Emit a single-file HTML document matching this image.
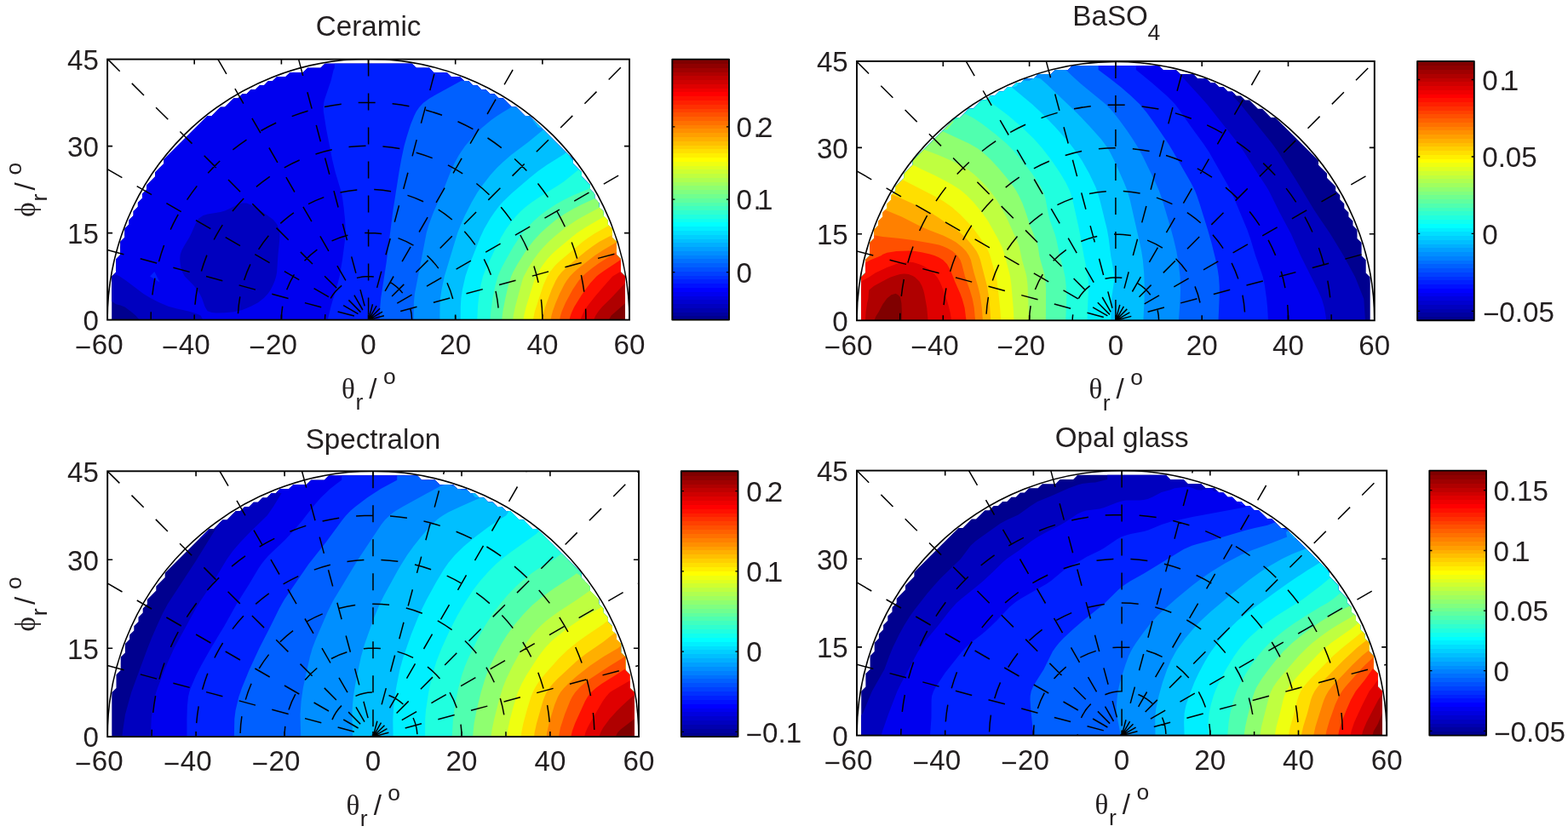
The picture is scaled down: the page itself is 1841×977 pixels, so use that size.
<!DOCTYPE html>
<html lang="en"><head><meta charset="utf-8"><title>Polar contour plots</title>
<style>
html,body{margin:0;padding:0;background:#fff}
body{width:1841px;height:977px;overflow:hidden}
svg{display:block}
text{font-family:"Liberation Sans",Arial,Helvetica,sans-serif;font-size:33.2px;fill:#231f20}
.ss{font-size:26.5px}
.sy{font-family:"Liberation Serif","DejaVu Serif",serif;font-size:33px}
</style></head>
<body>

<svg width="1841" height="977" viewBox="0 0 1841 977" role="img" aria-label="Polar contour plots for Ceramic, BaSO4, Spectralon and Opal glass">
<rect width="1841" height="977" fill="#fff"/>
<g id="panel1">
<clipPath id="clip0"><rect x="126.1" y="69.6" width="612.9" height="306"/></clipPath>
<g clip-path="url(#clip0)">
<path fill="#00008f" d="M131.2,375.6L733.9,375.6L733.9,324.6L728.8,319.5L728.8,304.2L723.7,299.1L723.7,283.8L718.6,278.7L718.6,268.5L713.5,263.4L713.5,258.3L708.4,253.2L708.4,248.1L703.2,243L703.2,237.9L698.1,232.8L698.1,227.7L693,222.6L693,217.5L682.8,207.3L682.8,202.2L672.6,192L672.6,186.9L621.5,135.9L616.4,135.9L606.2,125.7L601.1,125.7L590.9,115.5L585.8,115.5L580.7,110.4L575.6,110.4L570.5,105.3L565.3,105.3L560.2,100.2L555.1,100.2L550,95.1L544.9,95.1L539.8,90L529.6,90L524.5,84.9L509.2,84.9L504.1,79.8L488.7,79.8L483.6,74.7L381.5,74.7L376.4,79.8L361,79.8L355.9,84.9L340.6,84.9L335.5,90L325.3,90L320.2,95.1L315.1,95.1L310,100.2L304.9,100.2L299.8,105.3L294.6,105.3L289.5,110.4L284.4,110.4L279.3,115.5L274.2,115.5L264,125.7L258.9,125.7L248.7,135.9L243.6,135.9L192.5,186.9L192.5,192L182.3,202.2L182.3,207.3L172.1,217.5L172.1,222.6L167,227.7L167,232.8L161.9,237.9L161.9,243L156.7,248.1L156.7,253.2L151.6,258.3L151.6,263.4L146.5,268.5L146.5,278.7L141.4,283.8L141.4,299.1L136.3,304.2L136.3,319.5L131.2,324.6Z"/>
<path fill="#0000bf" d="M159.3,370.5L161.9,373.6L164.1,375.6L733.9,375.6L733.9,324.6L728.8,319.5L728.8,304.2L723.7,299.1L723.7,283.8L718.6,278.7L718.6,268.5L713.5,263.4L713.5,258.3L708.4,253.2L708.4,248.1L703.2,243L703.2,237.9L698.1,232.8L698.1,227.7L693,222.6L693,217.5L682.8,207.3L682.8,202.2L672.6,192L672.6,186.9L621.5,135.9L616.4,135.9L606.2,125.7L601.1,125.7L590.9,115.5L585.8,115.5L580.7,110.4L575.6,110.4L570.5,105.3L565.3,105.3L560.2,100.2L555.1,100.2L550,95.1L544.9,95.1L539.8,90L529.6,90L524.5,84.9L509.2,84.9L504.1,79.8L488.7,79.8L483.6,74.7L381.5,74.7L376.4,79.8L361,79.8L355.9,84.9L340.6,84.9L335.5,90L325.3,90L320.2,95.1L315.1,95.1L310,100.2L304.9,100.2L299.8,105.3L294.6,105.3L289.5,110.4L284.4,110.4L279.3,115.5L274.2,115.5L264,125.7L258.9,125.7L248.7,135.9L243.6,135.9L192.5,186.9L192.5,192L182.3,202.2L182.3,207.3L172.1,217.5L172.1,222.6L167,227.7L167,232.8L161.9,237.9L161.9,243L156.7,248.1L156.7,253.2L151.6,258.3L151.6,263.4L146.5,268.5L146.5,278.7L141.4,283.8L141.4,299.1L136.3,304.2L136.3,319.5L131.2,324.6L131.2,353.8L136.3,357.2L141.4,358.6L146.5,360.6L153.3,365.4Z"/>
<path fill="#0000ef" d="M238.2,375.6L733.9,375.6L733.9,324.6L728.8,319.5L728.8,304.2L723.7,299.1L723.7,283.8L718.6,278.7L718.6,268.5L713.5,263.4L713.5,258.3L708.4,253.2L708.4,248.1L703.2,243L703.2,237.9L698.1,232.8L698.1,227.7L693,222.6L693,217.5L682.8,207.3L682.8,202.2L672.6,192L672.6,186.9L621.5,135.9L616.4,135.9L606.2,125.7L601.1,125.7L590.9,115.5L585.8,115.5L580.7,110.4L575.6,110.4L570.5,105.3L565.3,105.3L560.2,100.2L555.1,100.2L550,95.1L544.9,95.1L539.8,90L529.6,90L524.5,84.9L509.2,84.9L504.1,79.8L488.7,79.8L483.6,74.7L381.5,74.7L376.4,79.8L361,79.8L355.9,84.9L340.6,84.9L335.5,90L325.3,90L320.2,95.1L315.1,95.1L310,100.2L304.9,100.2L299.8,105.3L294.6,105.3L289.5,110.4L284.4,110.4L279.3,115.5L274.2,115.5L264,125.7L258.9,125.7L248.7,135.9L243.6,135.9L192.5,186.9L192.5,192L182.3,202.2L182.3,207.3L172.1,217.5L172.1,222.6L167,227.7L167,232.8L161.9,237.9L161.9,243L156.7,248.1L156.7,253.2L151.6,258.3L151.6,263.4L146.5,268.5L146.5,278.7L141.4,283.8L141.4,299.1L136.3,304.2L136.3,319.5L134.4,321.4L140.5,324.6L148.3,329.7L168.4,345L176.7,350.1L187,355.2L197.6,359.7L207.8,362.6L221.5,365.4L228.2,367.4L233.4,369.4L235.6,370.5ZM248.7,367.1L243.6,365.2L240.6,360.3L237,350.1L234.5,345L231.3,339.9L227,334.8L216.9,324.6L214.1,319.5L212.5,314.4L211.6,309.3L211.2,304.2L211.7,299.1L213.4,294L216.1,288.9L222.3,278.7L224.9,273.6L229.2,263.4L232,258.3L233.4,256.6L238.5,253L243.6,251.6L258.9,248.9L264,247.4L269.1,245.2L279.3,239.9L284.4,238.4L289.5,238.6L294.6,240.4L299.4,243L314.5,253.2L320.2,257.6L321.1,258.3L325.3,263.4L327.3,268.5L328.2,273.6L328.3,278.7L328,283.8L326.5,299.1L325.1,319.5L324.2,324.6L322.6,329.7L320.5,334.8L317.9,339.9L314.5,345L309.8,350.1L303.1,355.2L294.6,359.7L284.4,363.9L274.2,366.3L264,367.3L253.8,367.4Z"/>
<path fill="#0020ff" d="M384.8,375.6L733.9,375.6L733.9,324.6L728.8,319.5L728.8,304.2L723.7,299.1L723.7,283.8L718.6,278.7L718.6,268.5L713.5,263.4L713.5,258.3L708.4,253.2L708.4,248.1L703.2,243L703.2,237.9L698.1,232.8L698.1,227.7L693,222.6L693,217.5L682.8,207.3L682.8,202.2L672.6,192L672.6,186.9L621.5,135.9L616.4,135.9L606.2,125.7L601.1,125.7L590.9,115.5L585.8,115.5L580.7,110.4L575.6,110.4L570.5,105.3L565.3,105.3L560.2,100.2L555.1,100.2L550,95.1L544.9,95.1L539.8,90L529.6,90L524.5,84.9L509.2,84.9L504.1,79.8L488.7,79.8L483.6,74.7L392.8,74.7L392.8,79.8L391.7,81.7L388.5,95.1L381.5,115.5L380.2,120.6L379.7,125.7L379.8,130.8L383,151.2L390,186.9L393.7,202.2L399.8,222.6L401.9,231.3L403.5,243L405.1,258.3L405.7,268.5L405.7,273.6L404.8,283.8L401.9,305.6L398.7,324.6L396.8,332L388.4,360.3Z"/>
<path fill="#0060ff" d="M445.8,375.6L733.9,375.6L733.9,324.6L728.8,319.5L728.8,304.2L723.7,299.1L723.7,283.8L718.6,278.7L718.6,268.5L713.5,263.4L713.5,258.3L708.4,253.2L708.4,248.1L703.2,243L703.2,237.9L698.1,232.8L698.1,227.7L693,222.6L693,217.5L682.8,207.3L682.8,202.2L672.6,192L672.6,186.9L621.5,135.9L616.4,135.9L606.2,125.7L601.1,125.7L590.9,115.5L585.8,115.5L580.7,110.4L575.6,110.4L570.5,105.3L565.3,105.3L560.2,100.2L555.1,100.2L550,95.1L544.9,95.1L544.6,94.8L541.3,95.1L513,110.4L504.3,115.5L498.9,119.4L497.3,120.6L492.4,125.7L488.9,130.8L486.3,135.9L482.2,146.1L477.3,161.4L474.5,171.6L471.2,186.9L468.5,202.2L461.3,248.1L453.5,309.3L447.2,350.1L446.3,360.3Z"/>
<path fill="#008fff" d="M485.6,375.6L733.9,375.6L733.9,324.6L728.8,319.5L728.8,304.2L723.7,299.1L723.7,283.8L718.6,278.7L718.6,268.5L713.5,263.4L713.5,258.3L708.4,253.2L708.4,248.1L703.2,243L703.2,237.9L698.1,232.8L698.1,227.7L693,222.6L693,217.5L682.8,207.3L682.8,202.2L672.6,192L672.6,186.9L621.9,136.2L621.5,136.5L620.7,135.9L616.4,135.9L606.2,125.7L601,125.6L590.9,131.4L583.8,135.9L576.7,141L565.3,150.4L555.1,160.7L546,171.6L539,181.8L533.4,192L528.8,202.2L520.8,222.6L509.2,248.4L503.6,263.4L500.7,273.6L486.9,345L485.9,355.2Z"/>
<path fill="#00bfff" d="M516.4,375.6L733.9,375.6L733.9,324.6L728.8,319.5L728.8,304.2L723.7,299.1L723.7,283.8L718.6,278.7L718.6,268.5L713.5,263.4L713.5,258.3L708.4,253.2L708.4,248.1L703.2,243L703.2,237.9L698.1,232.8L698.1,227.7L693,222.6L693,217.5L682.8,207.3L682.8,202.2L672.6,192L672.6,186.9L638,152.3L620.7,166.5L600.4,181.8L590.9,189.9L583.5,197.1L575.6,205.8L566.5,217.5L560.2,226.6L553.5,237.9L545.7,253.2L541.2,263.4L537.2,273.6L521.8,324.6L518.5,339.9L517,350.1L516.5,360.3ZM629.3,146.1L631.7,149.6L636.2,150.5L625.9,140.3L625.2,141Z"/>
<path fill="#00efff" d="M540.7,375.6L733.9,375.6L733.9,324.6L728.8,319.5L728.8,304.2L723.7,299.1L723.7,283.8L718.6,278.7L718.6,268.5L713.5,263.4L713.5,258.3L708.4,253.2L708.4,248.1L703.2,243L703.2,237.9L698.1,232.8L698.1,227.7L693,222.6L693,217.5L682.8,207.3L682.8,202.2L672.6,192L672.6,188.7L670,186.9L669.1,183.4L664.7,179L662.4,181L642,193.7L631.7,201L621.5,209.2L601.1,226.8L590.9,236.6L585.8,242.3L580.7,248.9L575.6,256.4L568.6,268.5L563.8,278.7L549.8,314.4L546.4,324.6L542.9,339.9L541.4,350.1L540.8,360.3Z"/>
<path fill="#20ffdf" d="M560.3,375.6L733.9,375.6L733.9,324.6L728.8,319.5L728.8,304.2L723.7,299.1L723.7,283.8L718.6,278.7L718.6,268.5L713.5,263.4L713.5,258.3L708.4,253.2L708.4,248.1L703.2,243L703.2,237.9L698.1,232.8L698.1,227.7L693,222.6L693,217.5L682.8,207.3L682.8,202.2L679.6,199L662.4,212.9L655.7,217.5L631.7,232.4L623.7,237.9L617.2,243L611.5,248.1L606.2,253.6L601.1,259.6L594.5,268.5L588.3,278.7L583,288.9L570.9,314.4L567,324.6L564.5,334.8L562,350.1L561,360.3Z"/>
<path fill="#50ffaf" d="M575.4,375.6L733.9,375.6L733.9,324.6L728.8,319.5L728.8,304.2L723.7,299.1L723.7,283.8L718.6,278.7L718.6,268.5L713.5,263.4L713.5,258.3L708.4,253.2L708.4,248.1L703.2,243L703.2,237.9L698.1,232.8L698.1,227.7L693,222.6L693,220L689.9,222.6L672.6,229.4L662.4,234.4L652.2,240.2L642,246.9L633.7,253.2L626.6,259.4L617.8,268.5L611.3,276.5L603.1,288.9L594.4,304.2L588.9,314.4L584.5,324.6L581.6,334.8L578.5,350.1L576.3,365.4Z"/>
<path fill="#8fff70" d="M589.2,375.6L733.9,375.6L733.9,324.6L728.8,319.5L728.8,304.2L723.7,299.1L723.7,283.8L718.6,278.7L718.6,268.5L713.5,263.4L713.5,258.3L708.4,253.2L708.4,248.1L703.2,243L703.2,237.9L698.5,233.1L682.8,240.2L672.6,245.5L662.4,251.5L652.5,258.3L642,266.9L634.9,273.6L626.6,282.4L621.5,288.9L616.4,296.2L608.1,309.3L602.4,319.5L600.2,324.6L596.9,334.8L593.4,350.1L590.4,365.4Z"/>
<path fill="#bfff40" d="M602.2,375.6L733.9,375.6L733.9,324.6L728.8,319.5L728.8,304.2L723.7,299.1L723.7,283.8L718.6,278.7L718.6,268.5L713.5,263.4L713.5,258.3L708.4,253.2L708.4,248.1L703.9,243.7L686.2,253.2L677.7,258.1L669.5,263.4L662.4,268.5L652.2,276.7L644.3,283.8L636.9,291.5L631.7,297.7L626.6,304.8L620.4,314.4L615,324.6L613.1,329.7L604.9,360.3L602.8,370.5Z"/>
<path fill="#efff10" d="M614.4,375.6L733.9,375.6L733.9,324.6L728.8,319.5L728.8,304.2L723.7,299.1L723.7,283.8L718.6,278.7L718.6,268.5L713.5,263.4L713.5,258.3L709.4,254.2L687.9,266.7L677.6,273.6L671,278.7L652.2,294.5L647.1,299.3L642,305L636.9,311.8L631.9,319.5L629.2,324.6L627.1,329.7L617.7,360.3L615.2,370.5Z"/>
<path fill="#ffdf00" d="M625.8,375.6L733.9,375.6L733.9,324.6L728.8,319.5L728.8,304.2L723.7,299.1L723.7,283.8L718.6,278.7L718.6,268.5L714.9,264.8L698.1,274.3L691.3,278.7L684.3,283.8L657.3,306.4L652.2,311.3L649.5,314.4L645.7,319.5L642.6,324.6L638,334.8L627.9,365.4Z"/>
<path fill="#ffaf00" d="M636.4,375.6L733.9,375.6L733.9,324.6L728.8,319.5L728.8,304.2L723.7,299.1L723.7,283.8L718.6,278.7L718.6,275.9L703.8,283.8L696,288.9L687.9,295L667.5,311.8L659.5,319.5L655.5,324.6L652.4,329.7L647.7,339.9L640.2,360.3L637.3,370.5Z"/>
<path fill="#ff8000" d="M646.6,375.6L733.9,375.6L733.9,324.6L728.8,319.5L728.8,304.2L723.7,299.1L723.7,284.5L708.4,293.4L698.1,300.2L679.8,314.4L674,319.5L669.1,324.6L665.2,329.7L662.4,334.2L657,345L652.2,356.3L648.9,365.4L647.5,370.5Z"/>
<path fill="#ff5000" d="M657,375.6L733.9,375.6L733.9,324.6L728.8,319.5L728.8,304.2L723.7,299.1L723.7,295.9L703.2,309L695.7,314.4L687.9,320.7L683.8,324.6L679.3,329.7L672.4,339.9L664.1,355.2L659.7,365.4L658.1,370.5Z"/>
<path fill="#ff1000" d="M668.5,375.6L733.9,375.6L733.9,324.6L728.8,319.5L728.8,305.1L708.4,318.5L703.2,322.2L700.4,324.6L693,332.5L687.9,339.2L682.8,346.6L674.3,360.3L671.8,365.4L669.8,370.5Z"/>
<path fill="#df0000" d="M681.6,375.6L733.9,375.6L733.9,324.6L728.8,319.5L728.8,318.7L719.2,324.6L708.4,336.7L698.1,348.7L689.1,360.3L685.8,365.4L683.3,370.5Z"/>
<path fill="#af0000" d="M697.1,375.6L733.9,375.6L733.9,332.6L717.5,350.1L707,360.3L702.7,365.4L699.3,370.5Z"/>
<path fill="#800000" d="M714.8,375.6L733.9,375.6L733.9,356.2L717.7,370.5Z"/>
<path fill="#0020ff" d="M181.4,319.1L176.1,324.5L187.6,331.4Z"/>
<path d="M126.1,375.6 A306.4,306.4 0 0 1 739,375.6" fill="none" stroke="#000" stroke-width="1.6"/>
<path d="M483.6,375.6 A51.1,51.1 0 0 0 481.7,361.8M472.7,344.1 A51.1,51.1 0 0 0 457.6,331.1M438.8,324.9 A51.1,51.1 0 0 0 418.9,326.4M401.2,335.3 A51.1,51.1 0 0 0 388.2,350.3M381.9,369.2 A51.1,51.1 0 0 0 381.5,375.6M534.7,375.6 A102.2,102.2 0 0 0 534.6,370.8M531.7,351 A102.2,102.2 0 0 0 525,332.2M514.8,315.1 A102.2,102.2 0 0 0 501.5,300.2M485.5,288.2 A102.2,102.2 0 0 0 467.5,279.6M448.1,274.6 A102.2,102.2 0 0 0 428.2,273.5M408.4,276.3 A102.2,102.2 0 0 0 389.6,282.9M372.4,293.1 A102.2,102.2 0 0 0 357.5,306.3M345.4,322.3 A102.2,102.2 0 0 0 336.7,340.2M331.7,359.6 A102.2,102.2 0 0 0 330.4,375.6M585.1,361.6 A153.2,153.2 0 0 0 582,341.9M576.4,322.7 A153.2,153.2 0 0 0 568.3,304.4M557.8,287.4 A153.2,153.2 0 0 0 545.3,271.8M530.8,258 A153.2,153.2 0 0 0 514.7,246.2M497.1,236.7 A153.2,153.2 0 0 0 478.5,229.4M459.1,224.7 A153.2,153.2 0 0 0 439.2,222.5M419.3,223 A153.2,153.2 0 0 0 399.5,226M380.3,231.6 A153.2,153.2 0 0 0 362,239.6M344.9,249.9 A153.2,153.2 0 0 0 329.3,262.4M315.4,276.8 A153.2,153.2 0 0 0 303.6,292.9M293.9,310.4 A153.2,153.2 0 0 0 286.6,329M281.8,348.4 A153.2,153.2 0 0 0 279.5,368.2M636.8,371.6 A204.3,204.3 0 0 0 635.4,351.7M632.1,331.9 A204.3,204.3 0 0 0 626.9,312.6M619.8,293.9 A204.3,204.3 0 0 0 610.9,276M600.4,259.1 A204.3,204.3 0 0 0 588.2,243.2M574.5,228.7 A204.3,204.3 0 0 0 559.4,215.5M543.2,203.8 A204.3,204.3 0 0 0 525.9,193.9M507.7,185.6 A204.3,204.3 0 0 0 488.7,179.2M469.3,174.6 A204.3,204.3 0 0 0 449.4,172M429.5,171.3 A204.3,204.3 0 0 0 409.5,172.6M389.8,175.8 A204.3,204.3 0 0 0 370.5,181M351.7,188 A204.3,204.3 0 0 0 333.8,196.8M316.8,207.3 A204.3,204.3 0 0 0 300.9,219.4M286.2,233 A204.3,204.3 0 0 0 273,248M261.3,264.2 A204.3,204.3 0 0 0 251.2,281.5M242.9,299.6 A204.3,204.3 0 0 0 236.4,318.5M231.7,338 A204.3,204.3 0 0 0 229,357.8M687.9,375.6 A255.4,255.4 0 0 0 687.6,362.6M685.8,342.7 A255.4,255.4 0 0 0 682.4,323M677.6,303.6 A255.4,255.4 0 0 0 671.2,284.6M663.3,266.3 A255.4,255.4 0 0 0 654.1,248.5M643.4,231.6 A255.4,255.4 0 0 0 631.5,215.5M618.4,200.5 A255.4,255.4 0 0 0 604.1,186.5M588.8,173.6 A255.4,255.4 0 0 0 572.5,162M555.4,151.7 A255.4,255.4 0 0 0 537.5,142.8M519,135.3 A255.4,255.4 0 0 0 499.9,129.3M480.4,124.7 A255.4,255.4 0 0 0 460.6,121.8M440.7,120.4 A255.4,255.4 0 0 0 420.7,120.5M400.8,122.2 A255.4,255.4 0 0 0 381,125.5M361.6,130.3 A255.4,255.4 0 0 0 342.7,136.6M324.2,144.3 A255.4,255.4 0 0 0 306.5,153.5M289.5,164.1 A255.4,255.4 0 0 0 273.4,175.9M258.2,189 A255.4,255.4 0 0 0 244.2,203.2M231.3,218.4 A255.4,255.4 0 0 0 219.6,234.7M209.2,251.8 A255.4,255.4 0 0 0 200.2,269.6M192.6,288.1 A255.4,255.4 0 0 0 186.5,307.2M181.9,326.6 A255.4,255.4 0 0 0 178.9,346.4M177.3,366.3 A255.4,255.4 0 0 0 177.2,375.6M432.6,375.6L450.9,370.7M470.2,365.5L489.5,360.3M508.9,355.2L528.2,350M547.5,344.8L566.8,339.6M586.1,334.4L605.5,329.3M624.8,324.1L644.1,318.9M663.4,313.7L682.7,308.6M702,303.4L721.4,298.2M432.6,375.6L449,366.1M466.3,356.1L483.6,346.1M501,336.1L518.3,326.1M535.6,316.1L552.9,306.1M570.2,296.1L587.6,286.1M604.9,276.1L622.2,266.1M639.5,256.1L656.9,246.1M674.2,236.1L691.5,226.1M708.8,216.1L726.1,206.1M432.6,375.6L446,362.2M460.1,348L474.3,333.9M488.4,319.7L502.6,305.6M516.7,291.5L530.8,277.3M545,263.2L559.1,249M573.3,234.9L587.4,220.7M601.5,206.6L615.7,192.5M629.8,178.3L644,164.2M658.1,150L672.3,135.9M686.4,121.7L700.5,107.6M714.7,93.5L728.8,79.3M432.6,375.6L442.1,359.1M452.1,341.8L462.1,324.5M472.1,307.2L482.1,289.9M492.1,272.5L502.1,255.2M512.1,237.9L522.1,220.6M532.1,203.3L542.1,185.9M552.1,168.6L562.1,151.3M572.1,134L582.1,116.7M592.1,99.3L602.1,82M432.6,375.6L437.5,357.2M442.6,337.9L447.8,318.6M453,299.3L458.2,280M463.3,260.7L468.5,241.3M473.7,222L478.9,202.7M484.1,183.4L489.2,164.1M494.4,144.7L499.6,125.4M504.8,106.1L509.9,86.8M432.6,69.6L432.6,89.6M432.6,109.6L432.6,129.6M432.6,149.6L432.6,169.6M432.6,189.6L432.6,209.6M432.6,229.6L432.6,249.6M432.6,269.6L432.6,289.6M432.6,309.6L432.6,329.6M432.6,349.6L432.6,369.6M350.6,69.6L355.7,88.9M360.9,108.2L366.1,127.6M371.3,146.9L376.4,166.2M381.6,185.5L386.8,204.8M392,224.1L397.1,243.5M402.3,262.8L407.5,282.1M412.7,301.4L417.9,320.7M423,340.1L428.2,359.4M255.9,69.6L265.9,86.9M275.9,104.2L285.9,121.6M295.9,138.9L305.9,156.2M315.9,173.5L325.9,190.8M335.9,208.2L345.9,225.5M355.9,242.8L365.9,260.1M375.9,277.4L385.9,294.8M395.9,312.1L405.9,329.4M415.9,346.7L425.9,364M126.6,69.6L140.7,83.7M154.8,97.9L169,112M183.1,126.2L197.3,140.3M211.4,154.5L225.5,168.6M239.7,182.7L253.8,196.9M268,211L282.1,225.2M296.3,239.3L310.4,253.4M324.5,267.6L338.7,281.7M352.8,295.9L367,310M381.1,324.2L395.3,338.3M409.4,352.4L423.5,366.6M126.1,198.7L143.4,208.7M160.7,218.7L178.1,228.7M195.4,238.7L212.7,248.7M230,258.7L247.3,268.7M264.7,278.7L282,288.7M299.3,298.7L316.6,308.7M333.9,318.7L351.3,328.7M368.6,338.7L385.9,348.7M403.2,358.7L420.5,368.7M126.1,293.5L145.4,298.7M164.7,303.8L184.1,309M203.4,314.2L222.7,319.4M242,324.5L261.3,329.7M280.6,334.9L300,340.1M319.3,345.3L338.6,350.4M357.9,355.6L377.2,360.8M396.6,366L415.9,371.1" fill="none" stroke="#000" stroke-width="1.5"/>
</g>
<path d="M228.2,375.6v-6M228.2,69.6v6M330.4,375.6v-6M330.4,69.6v6M432.5,375.6v-6M432.5,69.6v6M534.7,375.6v-6M534.7,69.6v6M636.9,375.6v-6M636.9,69.6v6M126.1,273.6h6M739,273.6h-6M126.1,171.6h6M739,171.6h-6" fill="none" stroke="#000" stroke-width="1.6"/>
<rect x="126.1" y="69.6" width="612.9" height="306" fill="none" stroke="#000" stroke-width="1.9"/>
<text x="87.7" y="415.8"><tspan dy="2.7">−</tspan><tspan dy="-2.7" dx="0.6">60</tspan></text>
<text x="189.8" y="415.8"><tspan dy="2.7">−</tspan><tspan dy="-2.7" dx="0.6">40</tspan></text>
<text x="292" y="415.8"><tspan dy="2.7">−</tspan><tspan dy="-2.7" dx="0.6">20</tspan></text>
<text x="432.5" y="415.8" text-anchor="middle">0</text>
<text x="534.7" y="415.8" text-anchor="middle">20</text>
<text x="636.9" y="415.8" text-anchor="middle">40</text>
<text x="739" y="415.8" text-anchor="middle">60</text>
<text x="115.9" y="387.9" text-anchor="end">0</text>
<text x="115.9" y="285.9" text-anchor="end">15</text>
<text x="115.9" y="183.9" text-anchor="end">30</text>
<text x="115.9" y="81.9" text-anchor="end">45</text>
<text x="432.6" y="42.3" text-anchor="middle">Ceramic</text>
<text class="sy" x="401.1" y="467.6">θ</text><text class="ss" x="417.4" y="480.9">r</text><text x="433.2" y="467.6">/</text><text class="ss" x="449.9" y="450.8">o</text>
<g transform="translate(40.6,254.8) rotate(-90)"><text class="sy" x="0" y="0">ϕ</text><text class="ss" x="18.2" y="14.2">r</text><text x="31.3" y="0">/</text><text class="ss" x="49.3" y="-15.6">o</text></g>
<g shape-rendering="crispEdges"><rect x="789.3" y="370.82" width="66.7" height="5.38" fill="#00008f"/><rect x="789.3" y="366.04" width="66.7" height="5.38" fill="#00009f"/><rect x="789.3" y="361.26" width="66.7" height="5.38" fill="#0000af"/><rect x="789.3" y="356.48" width="66.7" height="5.38" fill="#0000bf"/><rect x="789.3" y="351.69" width="66.7" height="5.38" fill="#0000cf"/><rect x="789.3" y="346.91" width="66.7" height="5.38" fill="#0000df"/><rect x="789.3" y="342.13" width="66.7" height="5.38" fill="#0000ef"/><rect x="789.3" y="337.35" width="66.7" height="5.38" fill="#0000ff"/><rect x="789.3" y="332.57" width="66.7" height="5.38" fill="#0010ff"/><rect x="789.3" y="327.79" width="66.7" height="5.38" fill="#0020ff"/><rect x="789.3" y="323.01" width="66.7" height="5.38" fill="#0030ff"/><rect x="789.3" y="318.23" width="66.7" height="5.38" fill="#0040ff"/><rect x="789.3" y="313.44" width="66.7" height="5.38" fill="#0050ff"/><rect x="789.3" y="308.66" width="66.7" height="5.38" fill="#0060ff"/><rect x="789.3" y="303.88" width="66.7" height="5.38" fill="#0070ff"/><rect x="789.3" y="299.10" width="66.7" height="5.38" fill="#0080ff"/><rect x="789.3" y="294.32" width="66.7" height="5.38" fill="#008fff"/><rect x="789.3" y="289.54" width="66.7" height="5.38" fill="#009fff"/><rect x="789.3" y="284.76" width="66.7" height="5.38" fill="#00afff"/><rect x="789.3" y="279.98" width="66.7" height="5.38" fill="#00bfff"/><rect x="789.3" y="275.19" width="66.7" height="5.38" fill="#00cfff"/><rect x="789.3" y="270.41" width="66.7" height="5.38" fill="#00dfff"/><rect x="789.3" y="265.63" width="66.7" height="5.38" fill="#00efff"/><rect x="789.3" y="260.85" width="66.7" height="5.38" fill="#00ffff"/><rect x="789.3" y="256.07" width="66.7" height="5.38" fill="#10ffef"/><rect x="789.3" y="251.29" width="66.7" height="5.38" fill="#20ffdf"/><rect x="789.3" y="246.51" width="66.7" height="5.38" fill="#30ffcf"/><rect x="789.3" y="241.73" width="66.7" height="5.38" fill="#40ffbf"/><rect x="789.3" y="236.94" width="66.7" height="5.38" fill="#50ffaf"/><rect x="789.3" y="232.16" width="66.7" height="5.38" fill="#60ff9f"/><rect x="789.3" y="227.38" width="66.7" height="5.38" fill="#70ff8f"/><rect x="789.3" y="222.60" width="66.7" height="5.38" fill="#80ff80"/><rect x="789.3" y="217.82" width="66.7" height="5.38" fill="#8fff70"/><rect x="789.3" y="213.04" width="66.7" height="5.38" fill="#9fff60"/><rect x="789.3" y="208.26" width="66.7" height="5.38" fill="#afff50"/><rect x="789.3" y="203.48" width="66.7" height="5.38" fill="#bfff40"/><rect x="789.3" y="198.69" width="66.7" height="5.38" fill="#cfff30"/><rect x="789.3" y="193.91" width="66.7" height="5.38" fill="#dfff20"/><rect x="789.3" y="189.13" width="66.7" height="5.38" fill="#efff10"/><rect x="789.3" y="184.35" width="66.7" height="5.38" fill="#ffff00"/><rect x="789.3" y="179.57" width="66.7" height="5.38" fill="#ffef00"/><rect x="789.3" y="174.79" width="66.7" height="5.38" fill="#ffdf00"/><rect x="789.3" y="170.01" width="66.7" height="5.38" fill="#ffcf00"/><rect x="789.3" y="165.23" width="66.7" height="5.38" fill="#ffbf00"/><rect x="789.3" y="160.44" width="66.7" height="5.38" fill="#ffaf00"/><rect x="789.3" y="155.66" width="66.7" height="5.38" fill="#ff9f00"/><rect x="789.3" y="150.88" width="66.7" height="5.38" fill="#ff8f00"/><rect x="789.3" y="146.10" width="66.7" height="5.38" fill="#ff8000"/><rect x="789.3" y="141.32" width="66.7" height="5.38" fill="#ff7000"/><rect x="789.3" y="136.54" width="66.7" height="5.38" fill="#ff6000"/><rect x="789.3" y="131.76" width="66.7" height="5.38" fill="#ff5000"/><rect x="789.3" y="126.98" width="66.7" height="5.38" fill="#ff4000"/><rect x="789.3" y="122.19" width="66.7" height="5.38" fill="#ff3000"/><rect x="789.3" y="117.41" width="66.7" height="5.38" fill="#ff2000"/><rect x="789.3" y="112.63" width="66.7" height="5.38" fill="#ff1000"/><rect x="789.3" y="107.85" width="66.7" height="5.38" fill="#ff0000"/><rect x="789.3" y="103.07" width="66.7" height="5.38" fill="#ef0000"/><rect x="789.3" y="98.29" width="66.7" height="5.38" fill="#df0000"/><rect x="789.3" y="93.51" width="66.7" height="5.38" fill="#cf0000"/><rect x="789.3" y="88.73" width="66.7" height="5.38" fill="#bf0000"/><rect x="789.3" y="83.94" width="66.7" height="5.38" fill="#af0000"/><rect x="789.3" y="79.16" width="66.7" height="5.38" fill="#9f0000"/><rect x="789.3" y="74.38" width="66.7" height="5.38" fill="#8f0000"/><rect x="789.3" y="69.60" width="66.7" height="5.38" fill="#800000"/></g>
<path d="M789.3,148.8h3.1M856,148.8h-3.1M789.3,234.1h3.1M856,234.1h-3.1M789.3,319.6h3.1M856,319.6h-3.1" fill="none" stroke="#000" stroke-width="1.3"/>
<rect x="789.3" y="69.6" width="66.7" height="306" fill="none" stroke="#000" stroke-width="1.9" stroke-linejoin="round"/>
<text x="864.4" y="161">0<tspan dx="1.6">.</tspan><tspan dx="-4.8">2</tspan></text>
<text x="864.4" y="246.3">0<tspan dx="1.6">.</tspan><tspan dx="-4.8">1</tspan></text>
<text x="864.4" y="331.8">0</text>
</g>
<g id="panel2">
<clipPath id="clip1"><rect x="1006" y="71.9" width="607.8" height="304.4"/></clipPath>
<g clip-path="url(#clip1)">
<path fill="#00008f" d="M1011.1,376.3L1608.7,376.3L1608.7,325.6L1603.7,320.5L1603.7,305.3L1598.6,300.2L1598.6,285L1593.5,279.9L1593.5,269.8L1588.5,264.7L1588.5,259.6L1583.4,254.5L1583.4,249.5L1578.3,244.4L1578.3,239.3L1573.3,234.2L1573.3,229.2L1568.2,224.1L1568.2,219L1558.1,208.9L1558.1,203.8L1548,193.7L1548,188.6L1497.3,137.9L1492.2,137.9L1482.1,127.7L1477,127.7L1466.9,117.6L1461.8,117.6L1456.8,112.5L1451.7,112.5L1446.7,107.4L1441.6,107.4L1436.5,102.3L1431.5,102.3L1426.4,97.3L1421.3,97.3L1416.3,92.2L1406.1,92.2L1401.1,87.1L1385.9,87.1L1380.8,82L1365.6,82L1360.5,77L1259.2,77L1254.2,82L1239,82L1233.9,87.1L1218.7,87.1L1213.7,92.2L1203.5,92.2L1198.5,97.3L1193.4,97.3L1188.3,102.3L1183.3,102.3L1178.2,107.4L1173.1,107.4L1168.1,112.5L1163,112.5L1158,117.6L1152.9,117.6L1142.8,127.7L1137.7,127.7L1127.6,137.9L1122.5,137.9L1071.8,188.6L1071.8,193.7L1061.7,203.8L1061.7,208.9L1051.6,219L1051.6,224.1L1046.5,229.2L1046.5,234.2L1041.5,239.3L1041.5,244.4L1036.4,249.5L1036.4,254.5L1031.3,259.6L1031.3,264.7L1026.3,269.8L1026.3,279.9L1021.2,285L1021.2,300.2L1016.1,305.3L1016.1,320.5L1011.1,325.6Z"/>
<path fill="#0000bf" d="M1011.1,376.3L1603,376.3L1601.3,350.9L1591.2,325.6L1577.5,300.2L1562,274.8L1542.9,246.6L1520.2,208.9L1500.7,178.4L1493.4,168.3L1456.5,122.6L1447.3,112.5L1450.1,110.9L1446.7,107.4L1441.6,107.4L1436.5,102.3L1431.5,102.3L1426.4,97.3L1421.3,97.3L1416.3,92.2L1406.1,92.2L1401.1,87.1L1385.9,87.1L1380.8,82L1365.6,82L1360.5,77L1259.2,77L1254.2,82L1239,82L1233.9,87.1L1218.7,87.1L1213.7,92.2L1203.5,92.2L1198.5,97.3L1193.4,97.3L1188.3,102.3L1183.3,102.3L1178.2,107.4L1173.1,107.4L1168.1,112.5L1163,112.5L1158,117.6L1152.9,117.6L1142.8,127.7L1137.7,127.7L1127.6,137.9L1122.5,137.9L1071.8,188.6L1071.8,193.7L1061.7,203.8L1061.7,208.9L1051.6,219L1051.6,224.1L1046.5,229.2L1046.5,234.2L1041.5,239.3L1041.5,244.4L1036.4,249.5L1036.4,254.5L1031.3,259.6L1031.3,264.7L1026.3,269.8L1026.3,279.9L1021.2,285L1021.2,300.2L1016.1,305.3L1016.1,320.5L1011.1,325.6Z"/>
<path fill="#0000ef" d="M1011.1,376.3L1557.2,376.3L1556.6,371.2L1554.8,361.1L1551.9,350.9L1547.4,340.8L1527.1,300.2L1515.9,274.8L1502.4,249.5L1489.8,224.1L1486.8,219L1473.4,198.7L1460.6,178.4L1453.5,168.3L1417.3,122.6L1408.4,112.5L1385.9,87.9L1379.3,82L1365.6,82L1360.5,77L1259.2,77L1254.2,82L1239,82L1233.9,87.1L1218.7,87.1L1213.7,92.2L1203.5,92.2L1198.5,97.3L1193.4,97.3L1188.3,102.3L1183.3,102.3L1178.2,107.4L1173.1,107.4L1168.1,112.5L1163,112.5L1158,117.6L1152.9,117.6L1142.8,127.7L1137.7,127.7L1127.6,137.9L1122.5,137.9L1071.8,188.6L1071.8,193.7L1061.7,203.8L1061.7,208.9L1051.6,219L1051.6,224.1L1046.5,229.2L1046.5,234.2L1041.5,239.3L1041.5,244.4L1036.4,249.5L1036.4,254.5L1031.3,259.6L1031.3,264.7L1026.3,269.8L1026.3,279.9L1021.2,285L1021.2,300.2L1016.1,305.3L1016.1,320.5L1011.1,325.6Z"/>
<path fill="#0020ff" d="M1011.1,376.3L1489,376.3L1488.1,361.1L1487.1,350.9L1485,335.7L1482.9,325.6L1481.3,320.5L1474.1,300.2L1468,279.9L1464.4,269.8L1449.6,234.2L1442.5,219L1419.5,178.4L1412.6,168.3L1397.8,148L1383.7,127.7L1379.7,122.6L1375.7,118.2L1369.9,112.5L1352.5,97.3L1333.9,82L1333.9,77L1259.2,77L1254.2,82L1239,82L1233.9,87.1L1218.7,87.1L1213.7,92.2L1203.5,92.2L1198.5,97.3L1193.4,97.3L1188.3,102.3L1183.3,102.3L1178.2,107.4L1173.1,107.4L1168.1,112.5L1163,112.5L1158,117.6L1152.9,117.6L1142.8,127.7L1137.7,127.7L1127.6,137.9L1122.5,137.9L1071.8,188.6L1071.8,193.7L1061.7,203.8L1061.7,208.9L1051.6,219L1051.6,224.1L1046.5,229.2L1046.5,234.2L1041.5,239.3L1041.5,244.4L1036.4,249.5L1036.4,254.5L1031.3,259.6L1031.3,264.7L1026.3,269.8L1026.3,279.9L1021.2,285L1021.2,300.2L1016.1,305.3L1016.1,320.5L1011.1,325.6Z"/>
<path fill="#0060ff" d="M1011.1,376.3L1430.5,376.3L1431.8,345.9L1431.7,335.7L1431,325.6L1429.5,315.4L1427.4,305.3L1422.4,285L1418,269.8L1408.5,239.3L1405.1,229.2L1403.1,224.1L1398,214L1377.6,178.4L1371.5,168.3L1360.5,151.9L1346.8,132.8L1338.3,122.6L1327.8,112.5L1316,102.3L1303.3,92.2L1289.6,82L1289.6,77L1259.2,77L1254.2,82L1239,82L1233.9,87.1L1218.7,87.1L1213.7,92.2L1203.5,92.2L1198.5,97.3L1193.4,97.3L1188.3,102.3L1183.3,102.3L1178.2,107.4L1173.1,107.4L1168.1,112.5L1163,112.5L1158,117.6L1152.9,117.6L1142.8,127.7L1137.7,127.7L1127.6,137.9L1122.5,137.9L1071.8,188.6L1071.8,193.7L1061.7,203.8L1061.7,208.9L1051.6,219L1051.6,224.1L1046.5,229.2L1046.5,234.2L1041.5,239.3L1041.5,244.4L1036.4,249.5L1036.4,254.5L1031.3,259.6L1031.3,264.7L1026.3,269.8L1026.3,279.9L1021.2,285L1021.2,300.2L1016.1,305.3L1016.1,320.5L1011.1,325.6Z"/>
<path fill="#008fff" d="M1011.1,376.3L1383.9,376.3L1385.7,350.9L1386,340.8L1385.6,325.6L1383.9,310.3L1381.3,295.1L1377.8,279.9L1373.6,264.7L1364.5,234.2L1360.9,224.1L1356.5,214L1341.7,183.5L1336.3,173.4L1329.9,163.2L1323,153.1L1315,141.9L1307.9,132.8L1303.5,127.7L1298.4,122.6L1269.4,98.7L1259.2,89.6L1251.4,82L1239,82L1233.9,87.1L1218.7,87.1L1213.7,92.2L1203.5,92.2L1198.5,97.3L1193.4,97.3L1188.3,102.3L1183.3,102.3L1178.2,107.4L1173.1,107.4L1168.1,112.5L1163,112.5L1158,117.6L1152.9,117.6L1142.8,127.7L1137.7,127.7L1127.6,137.9L1122.5,137.9L1071.8,188.6L1071.8,193.7L1061.7,203.8L1061.7,208.9L1051.6,219L1051.6,224.1L1046.5,229.2L1046.5,234.2L1041.5,239.3L1041.5,244.4L1036.4,249.5L1036.4,254.5L1031.3,259.6L1031.3,264.7L1026.3,269.8L1026.3,279.9L1021.2,285L1021.2,300.2L1016.1,305.3L1016.1,320.5L1011.1,325.6Z"/>
<path fill="#00bfff" d="M1011.1,376.3L1342.4,376.3L1343.6,350.9L1343.7,335.7L1343.2,320.5L1341.8,305.3L1340.2,295.1L1338.1,285L1326.6,234.2L1323.6,224.1L1319.6,214L1308.2,188.6L1303.2,178.4L1299.8,172.8L1292.7,163.2L1279.5,148.4L1264.5,132.8L1228.9,98.7L1221.5,92.2L1215,90.9L1213.7,92.2L1212.4,92.2L1208.6,95L1201.3,94.4L1198.5,97.3L1193.4,97.3L1188.3,102.3L1183.3,102.3L1178.2,107.4L1173.1,107.4L1168.1,112.5L1163,112.5L1158,117.6L1152.9,117.6L1142.8,127.7L1137.7,127.7L1127.6,137.9L1122.5,137.9L1071.8,188.6L1071.8,193.7L1061.7,203.8L1061.7,208.9L1051.6,219L1051.6,224.1L1046.5,229.2L1046.5,234.2L1041.5,239.3L1041.5,244.4L1036.4,249.5L1036.4,254.5L1031.3,259.6L1031.3,264.7L1026.3,269.8L1026.3,279.9L1021.2,285L1021.2,300.2L1016.1,305.3L1016.1,320.5L1011.1,325.6Z"/>
<path fill="#00efff" d="M1011.1,376.3L1304.3,376.3L1304.7,356L1305.8,345.9L1308,330.6L1308.2,325.6L1307.9,320.5L1304.2,300.2L1301.7,279.9L1299.9,269.8L1291.2,234.2L1288.1,224.1L1286.1,219L1278.9,203.8L1270.3,188.6L1263.6,178.4L1255.8,168.3L1239,149.2L1223.8,133.6L1212,122.6L1188.3,102.8L1188.3,102.3L1183.3,102.3L1178.2,107.4L1173.1,107.4L1168.1,112.5L1163,112.5L1158,117.6L1152.9,117.6L1142.8,127.7L1137.7,127.7L1127.6,137.9L1122.5,137.9L1071.8,188.6L1071.8,193.7L1061.7,203.8L1061.7,208.9L1051.6,219L1051.6,224.1L1046.5,229.2L1046.5,234.2L1041.5,239.3L1041.5,244.4L1036.4,249.5L1036.4,254.5L1031.3,259.6L1031.3,264.7L1026.3,269.8L1026.3,279.9L1021.2,285L1021.2,300.2L1016.1,305.3L1016.1,320.5L1011.1,325.6ZM1193.4,97.3L1188.5,102.2L1193.4,101.2L1196.1,97.3Z"/>
<path fill="#20ffdf" d="M1011.1,376.3L1276.5,376.3L1277.9,340.8L1277.9,330.6L1277.5,325.6L1276.8,320.5L1272.5,300.2L1268,274.8L1266,264.7L1259.2,234.2L1256,224.1L1251.2,214L1244.1,202.3L1233.9,187.3L1223.2,173.4L1213.7,162.8L1198.3,148L1183.3,135.3L1166.3,122.6L1160.2,117.6L1163,115.2L1164,112.5L1163,112.5L1158,117.6L1152.9,117.6L1142.8,127.7L1137.7,127.7L1127.6,137.9L1122.5,137.9L1071.8,188.6L1071.8,193.7L1061.7,203.8L1061.7,208.9L1051.6,219L1051.6,224.1L1046.5,229.2L1046.5,234.2L1041.5,239.3L1041.5,244.4L1036.4,249.5L1036.4,254.5L1031.3,259.6L1031.3,264.7L1026.3,269.8L1026.3,279.9L1021.2,285L1021.2,300.2L1016.1,305.3L1016.1,320.5L1011.1,325.6Z"/>
<path fill="#50ffaf" d="M1011.1,376.3L1251.2,376.3L1252.1,356L1252.2,345.9L1251.7,335.7L1250.6,325.6L1248.4,315.4L1244.3,300.2L1240,279.9L1238.5,274.8L1232.9,259.6L1230.5,249.5L1227.7,234.2L1226.4,229.2L1224.6,224.1L1222,219L1218.9,214L1211.7,203.8L1198.5,186.8L1188.3,175.2L1181.4,168.3L1168.1,156.9L1152.9,145.2L1142.8,138.4L1132.1,133.3L1127.6,137.9L1126,137.9L1122.5,140.5L1121.3,139.1L1071.8,188.6L1071.8,193.7L1061.7,203.8L1061.7,208.9L1051.6,219L1051.6,224.1L1046.5,229.2L1046.5,234.2L1041.5,239.3L1041.5,244.4L1036.4,249.5L1036.4,254.5L1031.3,259.6L1031.3,264.7L1026.3,269.8L1026.3,279.9L1021.2,285L1021.2,300.2L1016.1,305.3L1016.1,320.5L1011.1,325.6Z"/>
<path fill="#8fff70" d="M1011.1,376.3L1227.9,376.3L1228.1,340.8L1227.6,330.6L1226.9,325.6L1225.9,320.5L1221.5,305.3L1220.3,300.2L1218.8,290.1L1217.6,285L1209.4,264.7L1203.5,246.9L1200.7,239.3L1196,229.2L1193.1,224.1L1189.8,219L1182.1,208.9L1173.1,198.2L1163,187.3L1153.4,178.4L1147.8,174.3L1137.7,168.4L1106.4,154L1071.8,188.6L1071.8,193.7L1061.7,203.8L1061.7,208.9L1051.6,219L1051.6,224.1L1046.5,229.2L1046.5,234.2L1041.5,239.3L1041.5,244.4L1036.4,249.5L1036.4,254.5L1031.3,259.6L1031.3,264.7L1026.3,269.8L1026.3,279.9L1021.2,285L1021.2,300.2L1016.1,305.3L1016.1,320.5L1011.1,325.6ZM1112.4,148L1107.7,152.7L1112.4,152.1L1119.6,142.9L1118.6,141.8Z"/>
<path fill="#bfff40" d="M1011.1,376.3L1208.1,376.3L1206.6,335.7L1205.5,325.6L1204.4,320.5L1200,305.3L1196.8,290.1L1195.1,285L1181.4,254.5L1176.1,244.4L1169.9,234.2L1162.4,224.1L1153.4,214L1147.8,208.5L1142.8,204L1137.7,200.1L1127.6,193.9L1117.4,188.8L1102.2,182.3L1084.8,175.6L1072.6,187.9L1072.4,188.6L1071.8,189L1071.8,193.7L1061.7,203.8L1061.7,208.9L1051.6,219L1051.6,224.1L1046.5,229.2L1046.5,234.2L1041.5,239.3L1041.5,244.4L1036.4,249.5L1036.4,254.5L1031.3,259.6L1031.3,264.7L1026.3,269.8L1026.3,279.9L1021.2,285L1021.2,300.2L1016.1,305.3L1016.1,320.5L1011.1,325.6Z"/>
<path fill="#efff10" d="M1011.1,376.3L1190.5,376.3L1189.7,361.1L1187.5,335.7L1186.2,325.6L1185.1,320.5L1179.8,300.2L1176.5,290.1L1171.5,279.9L1160,259.6L1152.9,249.4L1142.8,237.2L1134.9,229.2L1127.6,223L1117.4,216.4L1107.3,210.9L1097.2,205.8L1082,198.7L1072.4,193.7L1071.8,193.6L1061.7,203.8L1061.7,208.9L1051.6,219L1051.6,224.1L1046.5,229.2L1046.5,234.2L1041.5,239.3L1041.5,244.4L1036.4,249.5L1036.4,254.5L1031.3,259.6L1031.3,264.7L1026.3,269.8L1026.3,279.9L1021.2,285L1021.2,300.2L1016.1,305.3L1016.1,320.5L1011.1,325.6Z"/>
<path fill="#ffdf00" d="M1011.1,376.3L1175.2,376.3L1174.1,361.1L1172.5,345.9L1170.6,330.6L1169.5,325.6L1162.5,300.2L1160.5,295.1L1157.9,290.1L1151.3,279.9L1143.9,269.8L1137.7,262.5L1127.6,252L1117.4,243L1107.3,236L1097.2,230.2L1059.6,211L1051.6,219L1051.6,224.1L1046.5,229.2L1046.5,234.2L1041.5,239.3L1041.5,244.4L1036.4,249.5L1036.4,254.5L1031.3,259.6L1031.3,264.7L1026.3,269.8L1026.3,279.9L1021.2,285L1021.2,300.2L1016.1,305.3L1016.1,320.5L1011.1,325.6Z"/>
<path fill="#ffaf00" d="M1011.1,376.3L1163.3,376.3L1161.9,356L1160.6,345.9L1158.9,335.7L1151,305.3L1149.2,300.2L1146.6,295.1L1143,290.1L1138.9,285L1132.6,278.1L1127.6,273.6L1122.5,269.8L1102.2,255.7L1092.1,249.3L1082,243.7L1047.4,228.3L1046.5,229.2L1046.5,234.2L1041.5,239.3L1041.5,244.4L1036.4,249.5L1036.4,254.5L1031.3,259.6L1031.3,264.7L1026.3,269.8L1026.3,279.9L1021.2,285L1021.2,300.2L1016.1,305.3L1016.1,320.5L1011.1,325.6Z"/>
<path fill="#ff8000" d="M1011.1,376.3L1153.9,376.3L1152.8,361.1L1150.6,345.9L1148.1,335.7L1143.6,320.5L1139.9,305.3L1137.7,300.2L1134.3,295.1L1129.4,290.1L1122.5,284.5L1117.4,281.4L1107.3,276.4L1089.7,269.8L1078.7,264.7L1058.6,254.5L1039.2,246.6L1036.4,249.5L1036.4,254.5L1031.3,259.6L1031.3,264.7L1026.3,269.8L1026.3,279.9L1021.2,285L1021.2,300.2L1016.1,305.3L1016.1,320.5L1011.1,325.6Z"/>
<path fill="#ff5000" d="M1011.1,376.3L1145.1,376.3L1143.7,361.1L1141.8,350.9L1138.8,340.8L1133.2,325.6L1129.3,310.3L1127.5,305.3L1124.1,300.2L1118.5,295.1L1112.4,291.5L1107.3,289.2L1102.2,287.5L1092.1,285.4L1071.8,282.1L1056.7,280L1036.4,277.9L1026.3,276.3L1026.3,279.9L1021.2,285L1021.2,300.2L1016.1,305.3L1016.1,320.5L1011.1,325.6Z"/>
<path fill="#ff1000" d="M1011.1,376.3L1134.5,376.3L1132.6,361.6L1129.7,350.9L1127.6,345.2L1121.1,330.6L1117.2,320.5L1114.9,315.4L1112,310.3L1107.2,305.3L1102.2,302.3L1097.6,300.2L1092.1,298.6L1082,296.2L1074.7,295.1L1066.8,294.5L1052.4,295.1L1041.5,296.7L1036.4,298.7L1034.5,300.2L1022.1,305.3L1016.1,308.4L1016.1,320.5L1011.1,325.6Z"/>
<path fill="#df0000" d="M1011.1,376.3L1117.2,376.3L1115.5,366.2L1112.9,356L1111.3,350.9L1105.6,335.7L1103.3,330.6L1100.4,325.6L1096,320.5L1092.1,317.3L1087,313.9L1082,311.3L1076.9,309.4L1071.8,308.1L1066.8,307.7L1061.7,307.9L1056.7,308.8L1051.6,310.2L1041.5,314L1027.7,320.5L1020.2,325.6L1011.1,330.4Z"/>
<path fill="#af0000" d="M1016,376.3L1089.6,376.3L1088.2,361.1L1085.5,345.9L1084.2,340.8L1082.4,335.7L1079.5,330.6L1074.3,325.6L1071.8,324.1L1066.8,322.1L1061.7,321.5L1056.7,322L1051.6,323.4L1045.6,325.6L1041.5,327.4L1031.3,333.1L1026.2,335.7L1020.1,340.8L1019.4,350.9L1018.1,356L1016.6,366.2Z"/>
<path fill="#800000" d="M1026.4,376.3L1058.9,376.3L1058.9,366.2L1058.4,356L1057.5,350.9L1056.7,348.6L1054,345.9L1051.6,344.8L1046.5,346.3L1041.5,350.3L1036.4,357.3L1031.7,366.2L1028.5,371.2Z"/>
<path d="M1006,376.3 A303.9,303.9 0 0 1 1613.8,376.3" fill="none" stroke="#000" stroke-width="1.6"/>
<path d="M1360.6,376.3 A50.6,50.6 0 0 0 1359.1,364.3M1350.7,346.3 A50.6,50.6 0 0 0 1336,332.9M1317.3,326.2 A50.6,50.6 0 0 0 1297.5,327.2M1279.6,335.7 A50.6,50.6 0 0 0 1266.3,350.5M1259.7,369.3 A50.6,50.6 0 0 0 1259.2,376.3M1411.2,376.3 A101.3,101.3 0 0 0 1411.2,375.3M1409,355.5 A101.3,101.3 0 0 0 1403,336.4M1393.4,318.9 A101.3,101.3 0 0 0 1380.5,303.7M1364.9,291.2 A101.3,101.3 0 0 0 1347.1,282.1M1327.9,276.6 A101.3,101.3 0 0 0 1308,275M1288.2,277.4 A101.3,101.3 0 0 0 1269.2,283.5M1251.8,293.3 A101.3,101.3 0 0 0 1236.7,306.3M1224.3,322.1 A101.3,101.3 0 0 0 1215.4,339.9M1210.1,359.1 A101.3,101.3 0 0 0 1208.6,376.3M1461.5,366.5 A151.9,151.9 0 0 0 1458.9,346.7M1453.8,327.4 A151.9,151.9 0 0 0 1446.1,308.9M1436.1,291.6 A151.9,151.9 0 0 0 1423.9,275.8M1409.7,261.7 A151.9,151.9 0 0 0 1393.8,249.6M1376.4,239.7 A151.9,151.9 0 0 0 1357.9,232.1M1338.6,227.1 A151.9,151.9 0 0 0 1318.8,224.6M1298.8,224.8 A151.9,151.9 0 0 0 1279,227.5M1259.7,232.9 A151.9,151.9 0 0 0 1241.4,240.7M1224.1,250.9 A151.9,151.9 0 0 0 1208.4,263.2M1194.5,277.5 A151.9,151.9 0 0 0 1182.5,293.5M1172.7,310.9 A151.9,151.9 0 0 0 1165.3,329.5M1160.4,348.9 A151.9,151.9 0 0 0 1158.1,368.7M1512.5,376.3 A202.6,202.6 0 0 0 1511.7,358M1508.9,338.2 A202.6,202.6 0 0 0 1504.2,318.8M1497.6,299.9 A202.6,202.6 0 0 0 1489.1,281.8M1478.9,264.6 A202.6,202.6 0 0 0 1467.1,248.5M1453.7,233.6 A202.6,202.6 0 0 0 1439,220.1M1423,208.2 A202.6,202.6 0 0 0 1405.8,197.9M1387.8,189.3 A202.6,202.6 0 0 0 1369,182.5M1349.6,177.6 A202.6,202.6 0 0 0 1329.8,174.7M1309.8,173.7 A202.6,202.6 0 0 0 1289.9,174.7M1270.1,177.6 A202.6,202.6 0 0 0 1250.7,182.5M1231.9,189.3 A202.6,202.6 0 0 0 1213.9,197.9M1196.7,208.2 A202.6,202.6 0 0 0 1180.7,220.2M1166,233.7 A202.6,202.6 0 0 0 1152.6,248.6M1140.8,264.7 A202.6,202.6 0 0 0 1130.6,281.9M1122.2,300 A202.6,202.6 0 0 0 1115.6,318.9M1110.9,338.3 A202.6,202.6 0 0 0 1108.1,358.1M1563.2,376.3 A253.2,253.2 0 0 0 1563.1,369.3M1561.7,349.4 A253.2,253.2 0 0 0 1558.8,329.6M1554.3,310.1 A253.2,253.2 0 0 0 1548.4,291M1540.9,272.5 A253.2,253.2 0 0 0 1532,254.6M1521.7,237.4 A253.2,253.2 0 0 0 1510.1,221.1M1497.2,205.8 A253.2,253.2 0 0 0 1483.2,191.6M1468,178.5 A253.2,253.2 0 0 0 1451.9,166.6M1435,156.1 A253.2,253.2 0 0 0 1417.2,146.9M1398.8,139.2 A253.2,253.2 0 0 0 1379.8,132.9M1360.4,128.1 A253.2,253.2 0 0 0 1340.6,124.9M1320.7,123.3 A253.2,253.2 0 0 0 1300.7,123.2M1280.8,124.7 A253.2,253.2 0 0 0 1261,127.8M1241.6,132.4 A253.2,253.2 0 0 0 1222.5,138.6M1204.1,146.2 A253.2,253.2 0 0 0 1186.2,155.3M1169.2,165.7 A253.2,253.2 0 0 0 1153,177.5M1137.8,190.5 A253.2,253.2 0 0 0 1123.7,204.6M1110.7,219.9 A253.2,253.2 0 0 0 1099,236.1M1088.6,253.1 A253.2,253.2 0 0 0 1079.6,271M1072,289.5 A253.2,253.2 0 0 0 1065.9,308.5M1061.3,328 A253.2,253.2 0 0 0 1058.3,347.8M1056.8,367.7 A253.2,253.2 0 0 0 1056.7,376.3M1309.9,376.3L1328.3,371.4M1347.6,366.2L1366.9,361M1386.2,355.9L1405.5,350.7M1424.8,345.5L1444.2,340.3M1463.5,335.1L1482.8,330M1502.1,324.8L1521.4,319.6M1540.8,314.4L1560.1,309.3M1579.4,304.1L1598.7,298.9M1309.9,376.3L1326.4,366.8M1343.7,356.8L1361,346.8M1378.3,336.8L1395.6,326.8M1413,316.8L1430.3,306.8M1447.6,296.8L1464.9,286.8M1482.2,276.8L1499.6,266.8M1516.9,256.8L1534.2,246.8M1551.5,236.8L1568.8,226.8M1586.2,216.8L1603.5,206.8M1309.9,376.3L1323.3,362.9M1337.5,348.7L1351.6,334.6M1365.8,320.4L1379.9,306.3M1394,292.2L1408.2,278M1422.3,263.9L1436.5,249.7M1450.6,235.6L1464.8,221.4M1478.9,207.3L1493,193.2M1507.2,179L1521.3,164.9M1535.5,150.7L1549.6,136.6M1563.8,122.4L1577.9,108.3M1592,94.2L1606.2,80M1309.9,376.3L1319.4,359.8M1329.4,342.5L1339.4,325.2M1349.4,307.9L1359.4,290.6M1369.4,273.2L1379.4,255.9M1389.4,238.6L1399.4,221.3M1409.4,204L1419.4,186.6M1429.4,169.3L1439.4,152M1449.4,134.7L1459.4,117.4M1469.4,100L1479.4,82.7M1309.9,376.3L1314.8,357.9M1320,338.6L1325.2,319.3M1330.3,300L1335.5,280.7M1340.7,261.4L1345.9,242M1351.1,222.7L1356.2,203.4M1361.4,184.1L1366.6,164.8M1371.8,145.4L1376.9,126.1M1382.1,106.8L1387.3,87.5M1309.9,71.9L1309.9,91.9M1309.9,111.9L1309.9,131.9M1309.9,151.9L1309.9,171.9M1309.9,191.9L1309.9,211.9M1309.9,231.9L1309.9,251.9M1309.9,271.9L1309.9,291.9M1309.9,311.9L1309.9,331.9M1309.9,351.9L1309.9,371.9M1228.3,71.9L1233.5,91.2M1238.7,110.5L1243.9,129.9M1249,149.2L1254.2,168.5M1259.4,187.8L1264.6,207.1M1269.7,226.4L1274.9,245.8M1280.1,265.1L1285.3,284.4M1290.5,303.7L1295.6,323M1300.8,342.4L1306,361.7M1134.2,71.9L1144.2,89.2M1154.2,106.5L1164.2,123.9M1174.2,141.2L1184.2,158.5M1194.2,175.8L1204.2,193.1M1214.2,210.5L1224.2,227.8M1234.2,245.1L1244.2,262.4M1254.2,279.7L1264.2,297.1M1274.2,314.4L1284.2,331.7M1294.2,349L1304.2,366.3M1006,72.4L1020.1,86.5M1034.3,100.7L1048.4,114.8M1062.6,129L1076.7,143.1M1090.9,157.3L1105,171.4M1119.1,185.5L1133.3,199.7M1147.4,213.8L1161.6,228M1175.7,242.1L1189.8,256.2M1204,270.4L1218.1,284.5M1232.3,298.7L1246.4,312.8M1260.6,327L1274.7,341.1M1288.8,355.2L1303,369.4M1006,200.8L1023.3,210.8M1040.6,220.8L1058,230.8M1075.3,240.8L1092.6,250.8M1109.9,260.8L1127.2,270.8M1144.6,280.8L1161.9,290.8M1179.2,300.8L1196.5,310.8M1213.8,320.8L1231.2,330.8M1248.5,340.8L1265.8,350.8M1283.1,360.8L1300.4,370.8M1006,294.9L1025.3,300M1044.6,305.2L1064,310.4M1083.3,315.6L1102.6,320.8M1121.9,325.9L1141.2,331.1M1160.5,336.3L1179.9,341.5M1199.2,346.6L1218.5,351.8M1237.8,357L1257.1,362.2M1276.5,367.3L1295.8,372.5" fill="none" stroke="#000" stroke-width="1.5"/>
</g>
<path d="M1107.3,376.3v-6M1107.3,71.9v6M1208.6,376.3v-6M1208.6,71.9v6M1309.9,376.3v-6M1309.9,71.9v6M1411.2,376.3v-6M1411.2,71.9v6M1512.5,376.3v-6M1512.5,71.9v6M1006,274.8h6M1613.8,274.8h-6M1006,173.4h6M1613.8,173.4h-6" fill="none" stroke="#000" stroke-width="1.6"/>
<rect x="1006" y="71.9" width="607.8" height="304.4" fill="none" stroke="#000" stroke-width="1.9"/>
<text x="967.6" y="416.5"><tspan dy="2.7">−</tspan><tspan dy="-2.7" dx="0.6">60</tspan></text>
<text x="1068.9" y="416.5"><tspan dy="2.7">−</tspan><tspan dy="-2.7" dx="0.6">40</tspan></text>
<text x="1170.2" y="416.5"><tspan dy="2.7">−</tspan><tspan dy="-2.7" dx="0.6">20</tspan></text>
<text x="1309.9" y="416.5" text-anchor="middle">0</text>
<text x="1411.2" y="416.5" text-anchor="middle">20</text>
<text x="1512.5" y="416.5" text-anchor="middle">40</text>
<text x="1613.8" y="416.5" text-anchor="middle">60</text>
<text x="995.8" y="388.6" text-anchor="end">0</text>
<text x="995.8" y="287.1" text-anchor="end">15</text>
<text x="995.8" y="185.7" text-anchor="end">30</text>
<text x="995.8" y="84.2" text-anchor="end">45</text>
<text x="1259.3" y="30.3">BaSO</text><text class="ss" x="1347.4" y="46.5">4</text>
<text class="sy" x="1278.4" y="468.3">θ</text><text class="ss" x="1294.7" y="481.6">r</text><text x="1310.6" y="468.3">/</text><text class="ss" x="1327.2" y="451.5">o</text>
<g shape-rendering="crispEdges"><rect x="1664.1" y="371.54" width="66.7" height="5.36" fill="#00008f"/><rect x="1664.1" y="366.79" width="66.7" height="5.36" fill="#00009f"/><rect x="1664.1" y="362.03" width="66.7" height="5.36" fill="#0000af"/><rect x="1664.1" y="357.28" width="66.7" height="5.36" fill="#0000bf"/><rect x="1664.1" y="352.52" width="66.7" height="5.36" fill="#0000cf"/><rect x="1664.1" y="347.76" width="66.7" height="5.36" fill="#0000df"/><rect x="1664.1" y="343.01" width="66.7" height="5.36" fill="#0000ef"/><rect x="1664.1" y="338.25" width="66.7" height="5.36" fill="#0000ff"/><rect x="1664.1" y="333.49" width="66.7" height="5.36" fill="#0010ff"/><rect x="1664.1" y="328.74" width="66.7" height="5.36" fill="#0020ff"/><rect x="1664.1" y="323.98" width="66.7" height="5.36" fill="#0030ff"/><rect x="1664.1" y="319.23" width="66.7" height="5.36" fill="#0040ff"/><rect x="1664.1" y="314.47" width="66.7" height="5.36" fill="#0050ff"/><rect x="1664.1" y="309.71" width="66.7" height="5.36" fill="#0060ff"/><rect x="1664.1" y="304.96" width="66.7" height="5.36" fill="#0070ff"/><rect x="1664.1" y="300.20" width="66.7" height="5.36" fill="#0080ff"/><rect x="1664.1" y="295.44" width="66.7" height="5.36" fill="#008fff"/><rect x="1664.1" y="290.69" width="66.7" height="5.36" fill="#009fff"/><rect x="1664.1" y="285.93" width="66.7" height="5.36" fill="#00afff"/><rect x="1664.1" y="281.18" width="66.7" height="5.36" fill="#00bfff"/><rect x="1664.1" y="276.42" width="66.7" height="5.36" fill="#00cfff"/><rect x="1664.1" y="271.66" width="66.7" height="5.36" fill="#00dfff"/><rect x="1664.1" y="266.91" width="66.7" height="5.36" fill="#00efff"/><rect x="1664.1" y="262.15" width="66.7" height="5.36" fill="#00ffff"/><rect x="1664.1" y="257.39" width="66.7" height="5.36" fill="#10ffef"/><rect x="1664.1" y="252.64" width="66.7" height="5.36" fill="#20ffdf"/><rect x="1664.1" y="247.88" width="66.7" height="5.36" fill="#30ffcf"/><rect x="1664.1" y="243.13" width="66.7" height="5.36" fill="#40ffbf"/><rect x="1664.1" y="238.37" width="66.7" height="5.36" fill="#50ffaf"/><rect x="1664.1" y="233.61" width="66.7" height="5.36" fill="#60ff9f"/><rect x="1664.1" y="228.86" width="66.7" height="5.36" fill="#70ff8f"/><rect x="1664.1" y="224.10" width="66.7" height="5.36" fill="#80ff80"/><rect x="1664.1" y="219.34" width="66.7" height="5.36" fill="#8fff70"/><rect x="1664.1" y="214.59" width="66.7" height="5.36" fill="#9fff60"/><rect x="1664.1" y="209.83" width="66.7" height="5.36" fill="#afff50"/><rect x="1664.1" y="205.08" width="66.7" height="5.36" fill="#bfff40"/><rect x="1664.1" y="200.32" width="66.7" height="5.36" fill="#cfff30"/><rect x="1664.1" y="195.56" width="66.7" height="5.36" fill="#dfff20"/><rect x="1664.1" y="190.81" width="66.7" height="5.36" fill="#efff10"/><rect x="1664.1" y="186.05" width="66.7" height="5.36" fill="#ffff00"/><rect x="1664.1" y="181.29" width="66.7" height="5.36" fill="#ffef00"/><rect x="1664.1" y="176.54" width="66.7" height="5.36" fill="#ffdf00"/><rect x="1664.1" y="171.78" width="66.7" height="5.36" fill="#ffcf00"/><rect x="1664.1" y="167.03" width="66.7" height="5.36" fill="#ffbf00"/><rect x="1664.1" y="162.27" width="66.7" height="5.36" fill="#ffaf00"/><rect x="1664.1" y="157.51" width="66.7" height="5.36" fill="#ff9f00"/><rect x="1664.1" y="152.76" width="66.7" height="5.36" fill="#ff8f00"/><rect x="1664.1" y="148.00" width="66.7" height="5.36" fill="#ff8000"/><rect x="1664.1" y="143.24" width="66.7" height="5.36" fill="#ff7000"/><rect x="1664.1" y="138.49" width="66.7" height="5.36" fill="#ff6000"/><rect x="1664.1" y="133.73" width="66.7" height="5.36" fill="#ff5000"/><rect x="1664.1" y="128.98" width="66.7" height="5.36" fill="#ff4000"/><rect x="1664.1" y="124.22" width="66.7" height="5.36" fill="#ff3000"/><rect x="1664.1" y="119.46" width="66.7" height="5.36" fill="#ff2000"/><rect x="1664.1" y="114.71" width="66.7" height="5.36" fill="#ff1000"/><rect x="1664.1" y="109.95" width="66.7" height="5.36" fill="#ff0000"/><rect x="1664.1" y="105.19" width="66.7" height="5.36" fill="#ef0000"/><rect x="1664.1" y="100.44" width="66.7" height="5.36" fill="#df0000"/><rect x="1664.1" y="95.68" width="66.7" height="5.36" fill="#cf0000"/><rect x="1664.1" y="90.93" width="66.7" height="5.36" fill="#bf0000"/><rect x="1664.1" y="86.17" width="66.7" height="5.36" fill="#af0000"/><rect x="1664.1" y="81.41" width="66.7" height="5.36" fill="#9f0000"/><rect x="1664.1" y="76.66" width="66.7" height="5.36" fill="#8f0000"/><rect x="1664.1" y="71.90" width="66.7" height="5.36" fill="#800000"/></g>
<path d="M1664.1,93.5h3.1M1730.8,93.5h-3.1M1664.1,184h3.1M1730.8,184h-3.1M1664.1,274.4h3.1M1730.8,274.4h-3.1M1664.1,365.3h3.1M1730.8,365.3h-3.1" fill="none" stroke="#000" stroke-width="1.3"/>
<rect x="1664.1" y="71.9" width="66.7" height="304.4" fill="none" stroke="#000" stroke-width="1.9" stroke-linejoin="round"/>
<text x="1740.2" y="105.7">0<tspan dx="1.6">.</tspan><tspan dx="-4.8">1</tspan></text>
<text x="1740.2" y="196.2">0.05</text>
<text x="1740.2" y="286.6">0</text>
<text x="1740.9" y="377.5"><tspan dy="2.7">−</tspan><tspan dy="-2.7">0.05</tspan></text>
</g>
<g id="panel3">
<clipPath id="clip2"><rect x="126.2" y="553.3" width="623.8" height="311.8"/></clipPath>
<g clip-path="url(#clip2)">
<path fill="#00008f" d="M131.3,865.1L744.7,865.1L744.7,813.1L739.5,807.9L739.5,792.3L734.3,787.1L734.3,771.6L729.1,766.4L729.1,756L723.9,750.8L723.9,745.6L718.7,740.4L718.7,735.2L713.5,730L713.5,724.8L708.3,719.6L708.3,714.4L703.1,709.2L703.1,704L692.7,693.6L692.7,688.4L682.3,678L682.3,672.8L630.3,620.9L625.1,620.9L614.8,610.5L609.6,610.5L599.2,600.1L594,600.1L588.8,594.9L583.6,594.9L578.4,589.7L573.2,589.7L568,584.5L562.8,584.5L557.6,579.3L552.4,579.3L547.2,574.1L536.8,574.1L531.6,568.9L516,568.9L510.8,563.7L495.2,563.7L490,558.5L386,558.5L380.8,563.7L365.3,563.7L360.1,568.9L344.5,568.9L339.3,574.1L328.9,574.1L323.7,579.3L318.5,579.3L313.3,584.5L308.1,584.5L302.9,589.7L297.7,589.7L292.5,594.9L287.3,594.9L282.1,600.1L276.9,600.1L266.5,610.5L261.3,610.5L250.9,620.9L245.7,620.9L193.7,672.8L193.7,678L183.3,688.4L183.3,693.6L172.9,704L172.9,709.2L167.7,714.4L167.7,719.6L162.5,724.8L162.5,730L157.3,735.2L157.3,740.4L152.1,745.6L152.1,750.8L146.9,756L146.9,766.4L141.7,771.6L141.7,787.1L136.5,792.3L136.5,807.9L131.3,813.1Z"/>
<path fill="#0000bf" d="M143.5,865.1L744.7,865.1L744.7,813.1L739.5,807.9L739.5,792.3L734.3,787.1L734.3,771.6L729.1,766.4L729.1,756L723.9,750.8L723.9,745.6L718.7,740.4L718.7,735.2L713.5,730L713.5,724.8L708.3,719.6L708.3,714.4L703.1,709.2L703.1,704L692.7,693.6L692.7,688.4L682.3,678L682.3,672.8L630.3,620.9L625.1,620.9L614.8,610.5L609.6,610.5L599.2,600.1L594,600.1L588.8,594.9L583.6,594.9L578.4,589.7L573.2,589.7L568,584.5L562.8,584.5L557.6,579.3L552.4,579.3L547.2,574.1L536.8,574.1L531.6,568.9L516,568.9L510.8,563.7L495.2,563.7L490,558.5L386,558.5L380.8,563.7L365.3,563.7L360.1,568.9L344.5,568.9L339.3,574.1L328.9,574.1L323.7,579.3L318.5,579.3L313.3,584.5L308.1,584.5L302.9,589.7L297.7,589.7L292.5,594.9L287.3,594.9L282.1,600.1L276.9,600.1L266.5,610.5L261.3,610.5L257.3,614.5L230.1,658.6L196.9,709.2L191.4,719.6L184.1,735.2L178.1,749L171.3,766.4L154.2,813.1L147,839.1L143.9,859.9ZM235.3,631.2L234.1,632.5L235.3,633L240.5,629.1L244,626.1L245.7,622.8L248.4,620.9L245.7,620.9Z"/>
<path fill="#0000ef" d="M176.8,865.1L744.7,865.1L744.7,813.1L739.5,807.9L739.5,792.3L734.3,787.1L734.3,771.6L729.1,766.4L729.1,756L723.9,750.8L723.9,745.6L718.7,740.4L718.7,735.2L713.5,730L713.5,724.8L708.3,719.6L708.3,714.4L703.1,709.2L703.1,704L692.7,693.6L692.7,688.4L682.3,678L682.3,672.8L630.3,620.9L625.1,620.9L614.8,610.5L609.6,610.5L599.2,600.1L594,600.1L588.8,594.9L583.6,594.9L578.4,589.7L573.2,589.7L568,584.5L562.8,584.5L557.6,579.3L552.4,579.3L547.2,574.1L536.8,574.1L531.6,568.9L516,568.9L510.8,563.7L495.2,563.7L490,558.5L386,558.5L380.8,563.7L365.3,563.7L360.1,568.9L344.5,568.9L339.3,574.1L328.9,574.1L325.1,577.9L330.5,579.3L320.9,594.9L313.8,605.3L292.5,625.9L282.4,636.4L273.5,646.8L266.5,656.5L250.5,683.2L235.3,705.7L229.9,714.4L204.4,761.2L193.7,785.1L185,807.9L183.3,813.1L180.9,823.5L179,833.9L177.7,844.3ZM318.5,579.3L317.2,580.5L318.5,581L320.5,579.3Z"/>
<path fill="#0020ff" d="M219.5,865.1L744.7,865.1L744.7,813.1L739.5,807.9L739.5,792.3L734.3,787.1L734.3,771.6L729.1,766.4L729.1,756L723.9,750.8L723.9,745.6L718.7,740.4L718.7,735.2L713.5,730L713.5,724.8L708.3,719.6L708.3,714.4L703.1,709.2L703.1,704L692.7,693.6L692.7,688.4L682.3,678L682.3,672.8L630.3,620.9L625.1,620.9L614.8,610.5L609.6,610.5L599.2,600.1L594,600.1L588.8,594.9L583.6,594.9L578.4,589.7L573.2,589.7L568,584.5L562.8,584.5L557.6,579.3L552.4,579.3L547.2,574.1L536.8,574.1L531.6,568.9L516,568.9L510.8,563.7L495.2,563.7L490,558.5L401.1,558.5L401.1,563.7L394,568.9L387.6,574.1L376.6,584.5L367.5,594.9L354.9,611.2L344.5,623.4L334.1,634.4L315.7,652L311,657.2L306.9,662.4L303.5,667.6L292.5,685.9L277.8,709.2L263.3,735.2L247.6,761.2L235.9,782L230.1,793.3L223.8,807.9L222.2,813.1L221,818.3L219.9,828.7L219.4,844.3Z"/>
<path fill="#0060ff" d="M274.9,865.1L744.7,865.1L744.7,813.1L739.5,807.9L739.5,792.3L734.3,787.1L734.3,771.6L729.1,766.4L729.1,756L723.9,750.8L723.9,745.6L718.7,740.4L718.7,735.2L713.5,730L713.5,724.8L708.3,719.6L708.3,714.4L703.1,709.2L703.1,704L692.7,693.6L692.7,688.4L682.3,678L682.3,672.8L630.3,620.9L625.1,620.9L614.8,610.5L609.6,610.5L599.2,600.1L594,600.1L588.8,594.9L583.6,594.9L578.4,589.7L573.2,589.7L568,584.5L562.8,584.5L557.6,579.3L552.4,579.3L547.2,574.1L536.8,574.1L531.6,568.9L516,568.9L510.8,563.7L495.2,563.7L490,558.5L466.2,558.5L466.2,563.7L447.1,574.1L431,584.5L417.2,594.9L411.3,600.1L406.3,605.3L402,610.5L382.9,636.4L362.3,662.4L333.8,704L327.9,714.4L317.7,735.2L304.4,761.2L292.5,787.1L283.9,807.9L280.4,818.3L276.6,833.9L275.3,844.3Z"/>
<path fill="#008fff" d="M353.2,865.1L744.7,865.1L744.7,813.1L739.5,807.9L739.5,792.3L734.3,787.1L734.3,771.6L729.1,766.4L729.1,756L723.9,750.8L723.9,745.6L718.7,740.4L718.7,735.2L713.5,730L713.5,724.8L708.3,719.6L708.3,714.4L703.1,709.2L703.1,704L692.7,693.6L692.7,688.4L682.3,678L682.3,672.8L630.3,620.9L625.1,620.9L614.8,610.5L609.6,610.5L599.2,600.1L594,600.1L588.8,594.9L583.6,594.9L578.4,589.7L573.2,589.7L568,584.5L562.8,584.5L557.6,579.3L552.4,579.3L548.4,575.3L542,575.5L540,574.1L536.8,574.1L533.5,570.8L531.6,571.1L527.5,568.9L521.9,568.9L516,571.6L501.4,579.3L472.8,594.9L464.3,600.1L458.8,604.1L452,610.5L447.8,615.7L444.3,620.9L420.2,657.2L392,704L389.2,709.2L384.2,719.6L370.7,750.8L366.7,761.2L363.8,771.6L355.8,807.9L353.6,823.5L352.5,839.1Z"/>
<path fill="#00bfff" d="M414.1,865.1L744.7,865.1L744.7,813.1L739.5,807.9L739.5,792.3L734.3,787.1L734.3,771.6L729.1,766.4L729.1,756L723.9,750.8L723.9,745.6L718.7,740.4L718.7,735.2L713.5,730L713.5,724.8L708.3,719.6L708.3,714.4L703.1,709.2L703.1,704L692.7,693.6L692.7,688.4L682.3,678L682.3,672.8L630.3,620.9L625.1,620.9L614.8,610.5L609.6,610.5L599.2,600.1L594,600.1L588.8,594.9L583.6,594.9L578.4,589.7L573.2,589.7L568,584.5L562.9,584.5L562.8,585.1L540.3,594.9L526.4,601.6L520.1,605.3L516,608.1L512.8,610.5L507.1,615.7L502.3,620.9L493.6,631.2L485.5,641.6L477.9,652L468.3,667.6L451.1,698.8L445.9,709.2L439.4,724.8L428.2,756L423.8,771.6L417.3,802.7L414.8,818.3L413.9,828.7L413.4,839.1ZM554.3,579.3L557.6,583.8L562.6,584.3L557.6,579.3Z"/>
<path fill="#00efff" d="M461.6,865.1L744.7,865.1L744.7,813.1L739.5,807.9L739.5,792.3L734.3,787.1L734.3,771.6L729.1,766.4L729.1,756L723.9,750.8L723.9,745.6L718.7,740.4L718.7,735.2L713.5,730L713.5,724.8L708.3,719.6L708.3,714.4L703.1,709.2L703.1,704L692.7,693.6L692.7,688.4L682.3,678L682.3,672.8L630.3,620.9L625.1,620.9L614.8,610.5L609.6,610.5L599.2,600.1L597.7,600.1L594.3,605.3L583.6,612L573.2,619L557.6,630.7L544.6,641.6L533.9,652L526.4,661L521.2,668.5L512.3,683.2L500.9,704L495.7,714.4L490.9,724.8L482.6,745.6L473.5,771.6L469.2,787.1L465.1,807.9L462.3,828.7L461.3,844.3Z"/>
<path fill="#20ffdf" d="M499.1,865.1L744.7,865.1L744.7,813.1L739.5,807.9L739.5,792.3L734.3,787.1L734.3,771.6L729.1,766.4L729.1,756L723.9,750.8L723.9,745.6L718.7,740.4L718.7,735.2L713.5,730L713.5,724.8L708.3,719.6L708.3,714.4L703.1,709.2L703.1,704L692.7,693.6L692.7,688.4L682.3,678L682.3,672.8L633,623.5L630.4,626.1L630.3,626.5L599.2,648.8L588.8,656.8L582.2,662.4L573.2,671.4L562.9,683.2L555.1,693.6L544.9,709.2L536.8,723.3L527.9,740.4L518.5,761.2L512.4,776.8L507.7,792.3L503.2,813.1L500,833.9L499.2,844.3Z"/>
<path fill="#50ffaf" d="M530.7,865.1L744.7,865.1L744.7,813.1L739.5,807.9L739.5,792.3L734.3,787.1L734.3,771.6L729.1,766.4L729.1,756L723.9,750.8L723.9,745.6L718.7,740.4L718.7,735.2L713.5,730L713.5,724.8L708.3,719.6L708.3,714.4L703.1,709.2L703.1,704L692.7,693.6L692.7,688.4L682.3,678L682.3,672.8L659.6,650.1L649.8,657.2L635.5,665.5L625.1,672.5L614.8,680.6L606,688.4L596,698.8L587.2,709.2L578.4,720.8L569.2,735.2L560.7,750.8L550.5,771.6L546,782L542.4,792.3L538.2,807.9L534,828.7L532,844.3Z"/>
<path fill="#8fff70" d="M555,865.1L744.7,865.1L744.7,813.1L739.5,807.9L739.5,792.3L734.3,787.1L734.3,771.6L729.1,766.4L729.1,756L723.9,750.8L723.9,745.6L718.7,740.4L718.7,735.2L713.5,730L713.5,724.8L708.3,719.6L708.3,714.4L703.1,709.2L703.1,704L692.7,693.6L692.7,688.4L682.3,678L682.3,676.5L677.1,673.3L671.9,677L651.1,690.4L635.5,701.8L625.1,710.6L614.8,720.9L604.4,733.2L595.4,745.6L588.8,756.1L580.4,771.6L573.2,787.1L569.4,797.5L564.7,813.1L559.6,833.9L556.6,849.5Z"/>
<path fill="#bfff40" d="M576.5,865.1L744.7,865.1L744.7,813.1L739.5,807.9L739.5,792.3L734.3,787.1L734.3,771.6L729.1,766.4L729.1,756L723.9,750.8L723.9,745.6L718.7,740.4L718.7,735.2L713.5,730L713.5,724.8L708.3,719.6L708.3,714.4L703.1,709.2L703.1,704L692.7,693.4L677.7,704L656.3,718L646.8,724.8L640.7,729.6L635.5,734.2L629.4,740.4L624.9,745.6L617.1,756L610.3,766.4L601.8,782L594.3,797.5L590.2,807.9L585.5,823.5L580.3,844.3L578,854.7Z"/>
<path fill="#efff10" d="M595.1,865.1L744.7,865.1L744.7,813.1L739.5,807.9L739.5,792.3L734.3,787.1L734.3,771.6L729.1,766.4L729.1,756L723.9,750.8L723.9,745.6L718.7,740.4L718.7,735.2L713.5,730L713.5,724.8L708.3,719.6L708.3,714.4L706.7,712.8L692.7,720.5L682.3,726.8L671.9,733.7L662.8,740.4L651.1,749.8L645.9,754.5L640.7,759.9L635.5,766.4L630.3,773.7L618.4,792.3L612.6,802.7L608,813.1L603,828.7L598.9,844.3L596.6,854.7Z"/>
<path fill="#ffdf00" d="M611.6,865.1L744.7,865.1L744.7,813.1L739.5,807.9L739.5,792.3L734.3,787.1L734.3,771.6L729.1,766.4L729.1,756L723.9,750.8L723.9,745.6L718.7,740.4L718.7,735.2L713.5,730L713.5,728.8L708.3,732.9L687.5,746.9L677.1,754.6L666.7,763.1L656.3,773L640.7,790.6L635,797.5L631.2,802.7L628,807.9L625.5,813.1L623.4,818.3L618.6,833.9L614.4,849.5L612.3,859.9Z"/>
<path fill="#ffaf00" d="M627,865.1L744.7,865.1L744.7,813.1L739.5,807.9L739.5,792.3L734.3,787.1L734.3,771.6L729.1,766.4L729.1,756L723.9,750.8L723.9,745.6L721.6,743.3L708.3,753.7L687.5,768L677.1,776.2L654.2,797.5L649.2,802.7L645.9,806.7L641.7,813.1L639.3,818.3L637.4,823.5L630,849.5L627.7,859.9Z"/>
<path fill="#ff8000" d="M641.5,865.1L744.7,865.1L744.7,813.1L739.5,807.9L739.5,792.3L734.3,787.1L734.3,771.6L729.1,766.4L729.1,758.2L725.4,761.2L708.3,771.2L692.7,781.7L677.1,794.1L667.3,802.7L662.1,807.9L658,813.1L655,818.3L651.1,827.8L644.6,849.5L642.3,859.9Z"/>
<path fill="#ff5000" d="M655.9,865.1L744.7,865.1L744.7,813.1L739.5,807.9L739.5,792.3L734.3,787.1L734.3,771.6L733.7,771L713.5,783.4L692.7,797.2L682.3,805.6L679.9,807.9L675.3,813.1L671.8,818.3L669.2,823.5L663,839.1L657.9,854.7Z"/>
<path fill="#ff1000" d="M670.3,865.1L744.7,865.1L744.7,813.1L739.5,807.9L739.5,792.3L734.3,787.1L734.3,785.3L723.9,792.1L706.7,802.7L699.5,807.9L693.9,813.1L692.7,814.6L689.9,818.3L686.9,823.5L675.1,849.5L671.9,858.2Z"/>
<path fill="#df0000" d="M686.1,865.1L744.7,865.1L744.7,813.1L739.5,807.9L739.5,799.2L718.7,811.3L716,813.1L711.4,818.3L707.6,823.5L692.5,849.5L689.7,854.7L687.5,859.9Z"/>
<path fill="#af0000" d="M703.4,865.1L744.7,865.1L744.7,816.1L736.1,823.5L729.1,830L723.9,835.2L715.7,844.3L708,854.7L705.2,859.9Z"/>
<path fill="#800000" d="M722.7,865.1L744.7,865.1L744.7,844.3L729.1,856.3L725.3,859.9Z"/>
<path d="M126.1,865.1 A311.9,311.9 0 0 1 749.9,865.1" fill="none" stroke="#000" stroke-width="1.6"/>
<path d="M489.9,862.3 A52,52 0 0 0 485.1,843M473.4,827 A52,52 0 0 0 456.5,816.5M436.9,813.1 A52,52 0 0 0 417.5,817.4M401,828.6 A52,52 0 0 0 390,845.1M386,864.6 A52,52 0 0 0 386,865.1M542,865.1 A104,104 0 0 0 541,850.7M536.3,831.3 A104,104 0 0 0 528.1,813.1M516.5,796.9 A104,104 0 0 0 502,783.1M485.1,772.4 A104,104 0 0 0 466.6,765.1M446.9,761.5 A104,104 0 0 0 426.9,761.7M407.4,765.8 A104,104 0 0 0 389,773.5M372.3,784.5 A104,104 0 0 0 358.1,798.6M346.9,815.1 A104,104 0 0 0 339,833.4M334.8,852.9 A104,104 0 0 0 334.1,865.1M594,865.1 A155.9,155.9 0 0 0 593.9,859.3M591.8,839.4 A155.9,155.9 0 0 0 587.3,820M580.3,801.2 A155.9,155.9 0 0 0 570.9,783.6M559.4,767.2 A155.9,155.9 0 0 0 545.9,752.5M530.6,739.6 A155.9,155.9 0 0 0 513.8,728.8M495.8,720.2 A155.9,155.9 0 0 0 476.8,714.1M457.1,710.3 A155.9,155.9 0 0 0 437.2,709.2M417.2,710.6 A155.9,155.9 0 0 0 397.6,714.5M378.7,720.9 A155.9,155.9 0 0 0 360.7,729.7M344.1,740.7 A155.9,155.9 0 0 0 328.9,753.7M315.6,768.6 A155.9,155.9 0 0 0 304.2,785M295.1,802.8 A155.9,155.9 0 0 0 288.3,821.6M283.9,841.1 A155.9,155.9 0 0 0 282.1,861M645.2,847.9 A207.9,207.9 0 0 0 642.6,828.1M638.1,808.6 A207.9,207.9 0 0 0 631.8,789.7M623.6,771.4 A207.9,207.9 0 0 0 613.8,754M602.3,737.6 A207.9,207.9 0 0 0 589.3,722.5M574.9,708.6 A207.9,207.9 0 0 0 559.2,696.2M542.4,685.3 A207.9,207.9 0 0 0 524.7,676.1M506.1,668.7 A207.9,207.9 0 0 0 487,663M467.3,659.3 A207.9,207.9 0 0 0 447.4,657.4M427.4,657.5 A207.9,207.9 0 0 0 407.5,659.4M387.9,663.3 A207.9,207.9 0 0 0 368.8,669.1M350.3,676.6 A207.9,207.9 0 0 0 332.6,685.9M315.8,696.9 A207.9,207.9 0 0 0 300.2,709.4M285.9,723.3 A207.9,207.9 0 0 0 273,738.6M261.6,755 A207.9,207.9 0 0 0 251.9,772.5M243.8,790.8 A207.9,207.9 0 0 0 237.6,809.8M233.2,829.3 A207.9,207.9 0 0 0 230.7,849.1M697.8,856.9 A259.9,259.9 0 0 0 696.4,837M693.5,817.2 A259.9,259.9 0 0 0 689,797.7M683.1,778.6 A259.9,259.9 0 0 0 675.7,760M666.9,742 A259.9,259.9 0 0 0 656.8,724.8M645.4,708.4 A259.9,259.9 0 0 0 632.7,692.9M618.9,678.5 A259.9,259.9 0 0 0 604,665.1M588.1,652.9 A259.9,259.9 0 0 0 571.4,642M553.8,632.4 A259.9,259.9 0 0 0 535.6,624.2M516.8,617.4 A259.9,259.9 0 0 0 497.5,612.1M477.9,608.3 A259.9,259.9 0 0 0 458,606M438.1,605.2 A259.9,259.9 0 0 0 418.1,606M398.2,608.3 A259.9,259.9 0 0 0 378.6,612.1M359.3,617.4 A259.9,259.9 0 0 0 340.5,624.2M322.3,632.4 A259.9,259.9 0 0 0 304.7,642M288,652.9 A259.9,259.9 0 0 0 272.1,665.1M257.2,678.4 A259.9,259.9 0 0 0 243.4,692.9M230.7,708.3 A259.9,259.9 0 0 0 219.3,724.7M209.2,742 A259.9,259.9 0 0 0 200.4,759.9M193,778.5 A259.9,259.9 0 0 0 187,797.6M182.6,817.1 A259.9,259.9 0 0 0 179.7,836.9M178.3,856.8 A259.9,259.9 0 0 0 178.1,865.1M438,865.1L456.4,860.2M475.7,855L495,849.8M514.3,844.7L533.7,839.5M553,834.3L572.3,829.1M591.6,823.9L610.9,818.8M630.2,813.6L649.6,808.4M668.9,803.2L688.2,798.1M707.5,792.9L726.8,787.7M746.2,782.5L749.9,781.5M438,865.1L454.5,855.6M471.8,845.6L489.1,835.6M506.4,825.6L523.8,815.6M541.1,805.6L558.4,795.6M575.7,785.6L593,775.6M610.4,765.6L627.7,755.6M645,745.6L662.3,735.6M679.6,725.6L697,715.6M714.3,705.6L731.6,695.6M748.9,685.6L749.9,685M438,865.1L451.5,851.7M465.6,837.5L479.7,823.4M493.9,809.2L508,795.1M522.2,781L536.3,766.8M550.5,752.7L564.6,738.5M578.7,724.4L592.9,710.2M607,696.1L621.2,682M635.3,667.8L649.4,653.7M663.6,639.5L677.7,625.4M691.9,611.2L706,597.1M720.2,583L734.3,568.8M748.4,554.7L749.8,553.3M438,865.1L447.5,848.6M457.5,831.3L467.5,814M477.5,796.7L487.5,779.4M497.5,762L507.5,744.7M517.5,727.4L527.5,710.1M537.5,692.8L547.5,675.4M557.5,658.1L567.5,640.8M577.5,623.5L587.5,606.2M597.5,588.8L607.5,571.5M617.5,554.2L618,553.3M438,865.1L442.9,846.7M448.1,827.4L453.3,808.1M458.5,788.8L463.6,769.5M468.8,750.2L474,730.8M479.2,711.5L484.4,692.2M489.5,672.9L494.7,653.6M499.9,634.2L505.1,614.9M510.2,595.6L515.4,576.3M520.6,557L521.6,553.3M438,553.3L438,573.3M438,593.3L438,613.3M438,633.3L438,653.3M438,673.3L438,693.3M438,713.3L438,733.3M438,753.3L438,773.3M438,793.3L438,813.3M438,833.3L438,853.3M354.5,553.3L359.7,572.6M364.8,591.9L370,611.3M375.2,630.6L380.4,649.9M385.5,669.2L390.7,688.5M395.9,707.8L401.1,727.2M406.2,746.5L411.4,765.8M416.6,785.1L421.8,804.4M426.9,823.8L432.1,843.1M437.3,862.4L438,865.1M258,553.3L268,570.6M278,587.9L288,605.3M298,622.6L308,639.9M318,657.2L328,674.5M338,691.9L348,709.2M358,726.5L368,743.8M378,761.1L388,778.5M398,795.8L408,813.1M418,830.4L428,847.7M438,865.1L438,865.1M126.2,553.3L140.4,567.4M154.5,581.6L168.7,595.7M182.8,609.9L196.9,624M211.1,638.2L225.2,652.3M239.4,666.4L253.5,680.6M267.6,694.7L281.8,708.9M295.9,723L310.1,737.1M324.2,751.3L338.4,765.4M352.5,779.6L366.6,793.7M380.8,807.9L394.9,822M409.1,836.1L423.2,850.3M437.4,864.4L438,865.1M126.1,685L143.5,695M160.8,705L178.1,715M195.4,725L212.8,735M230.1,745L247.4,755M264.7,765L282,775M299.4,785L316.7,795M334,805L351.3,815M368.6,825L386,835M403.3,845L420.6,855M437.9,865L438,865.1M126.1,781.5L145.5,786.7M164.8,791.9L184.1,797.1M203.4,802.2L222.7,807.4M242.1,812.6L261.4,817.8M280.7,822.9L300,828.1M319.3,833.3L338.7,838.5M358,843.6L377.3,848.8M396.6,854L415.9,859.2M435.2,864.4L438,865.1" fill="none" stroke="#000" stroke-width="1.5"/>
</g>
<path d="M230.1,865.1v-6M230.1,553.3v6M334.1,865.1v-6M334.1,553.3v6M438,865.1v-6M438,553.3v6M542,865.1v-6M542,553.3v6M645.9,865.1v-6M645.9,553.3v6M126.2,761.2h6M749.9,761.2h-6M126.2,657.2h6M749.9,657.2h-6" fill="none" stroke="#000" stroke-width="1.6"/>
<rect x="126.2" y="553.3" width="623.8" height="311.8" fill="none" stroke="#000" stroke-width="1.9"/>
<text x="87.7" y="905.3"><tspan dy="2.7">−</tspan><tspan dy="-2.7" dx="0.6">60</tspan></text>
<text x="191.7" y="905.3"><tspan dy="2.7">−</tspan><tspan dy="-2.7" dx="0.6">40</tspan></text>
<text x="295.6" y="905.3"><tspan dy="2.7">−</tspan><tspan dy="-2.7" dx="0.6">20</tspan></text>
<text x="438" y="905.3" text-anchor="middle">0</text>
<text x="542" y="905.3" text-anchor="middle">20</text>
<text x="645.9" y="905.3" text-anchor="middle">40</text>
<text x="749.9" y="905.3" text-anchor="middle">60</text>
<text x="116" y="877.4" text-anchor="end">0</text>
<text x="116" y="773.5" text-anchor="end">15</text>
<text x="116" y="669.5" text-anchor="end">30</text>
<text x="116" y="565.6" text-anchor="end">45</text>
<text x="438" y="526.9" text-anchor="middle">Spectralon</text>
<text class="sy" x="406.5" y="957.1">θ</text><text class="ss" x="422.8" y="970.4">r</text><text x="438.7" y="957.1">/</text><text class="ss" x="455.3" y="940.3">o</text>
<g transform="translate(40.6,741.4) rotate(-90)"><text class="sy" x="0" y="0">ϕ</text><text class="ss" x="18.2" y="14.2">r</text><text x="31.3" y="0">/</text><text class="ss" x="49.3" y="-15.6">o</text></g>
<g shape-rendering="crispEdges"><rect x="799.8" y="860.23" width="66.7" height="5.47" fill="#00008f"/><rect x="799.8" y="855.36" width="66.7" height="5.47" fill="#00009f"/><rect x="799.8" y="850.48" width="66.7" height="5.47" fill="#0000af"/><rect x="799.8" y="845.61" width="66.7" height="5.47" fill="#0000bf"/><rect x="799.8" y="840.74" width="66.7" height="5.47" fill="#0000cf"/><rect x="799.8" y="835.87" width="66.7" height="5.47" fill="#0000df"/><rect x="799.8" y="831.00" width="66.7" height="5.47" fill="#0000ef"/><rect x="799.8" y="826.12" width="66.7" height="5.47" fill="#0000ff"/><rect x="799.8" y="821.25" width="66.7" height="5.47" fill="#0010ff"/><rect x="799.8" y="816.38" width="66.7" height="5.47" fill="#0020ff"/><rect x="799.8" y="811.51" width="66.7" height="5.47" fill="#0030ff"/><rect x="799.8" y="806.64" width="66.7" height="5.47" fill="#0040ff"/><rect x="799.8" y="801.77" width="66.7" height="5.47" fill="#0050ff"/><rect x="799.8" y="796.89" width="66.7" height="5.47" fill="#0060ff"/><rect x="799.8" y="792.02" width="66.7" height="5.47" fill="#0070ff"/><rect x="799.8" y="787.15" width="66.7" height="5.47" fill="#0080ff"/><rect x="799.8" y="782.28" width="66.7" height="5.47" fill="#008fff"/><rect x="799.8" y="777.41" width="66.7" height="5.47" fill="#009fff"/><rect x="799.8" y="772.53" width="66.7" height="5.47" fill="#00afff"/><rect x="799.8" y="767.66" width="66.7" height="5.47" fill="#00bfff"/><rect x="799.8" y="762.79" width="66.7" height="5.47" fill="#00cfff"/><rect x="799.8" y="757.92" width="66.7" height="5.47" fill="#00dfff"/><rect x="799.8" y="753.05" width="66.7" height="5.47" fill="#00efff"/><rect x="799.8" y="748.17" width="66.7" height="5.47" fill="#00ffff"/><rect x="799.8" y="743.30" width="66.7" height="5.47" fill="#10ffef"/><rect x="799.8" y="738.43" width="66.7" height="5.47" fill="#20ffdf"/><rect x="799.8" y="733.56" width="66.7" height="5.47" fill="#30ffcf"/><rect x="799.8" y="728.69" width="66.7" height="5.47" fill="#40ffbf"/><rect x="799.8" y="723.82" width="66.7" height="5.47" fill="#50ffaf"/><rect x="799.8" y="718.94" width="66.7" height="5.47" fill="#60ff9f"/><rect x="799.8" y="714.07" width="66.7" height="5.47" fill="#70ff8f"/><rect x="799.8" y="709.20" width="66.7" height="5.47" fill="#80ff80"/><rect x="799.8" y="704.33" width="66.7" height="5.47" fill="#8fff70"/><rect x="799.8" y="699.46" width="66.7" height="5.47" fill="#9fff60"/><rect x="799.8" y="694.58" width="66.7" height="5.47" fill="#afff50"/><rect x="799.8" y="689.71" width="66.7" height="5.47" fill="#bfff40"/><rect x="799.8" y="684.84" width="66.7" height="5.47" fill="#cfff30"/><rect x="799.8" y="679.97" width="66.7" height="5.47" fill="#dfff20"/><rect x="799.8" y="675.10" width="66.7" height="5.47" fill="#efff10"/><rect x="799.8" y="670.22" width="66.7" height="5.47" fill="#ffff00"/><rect x="799.8" y="665.35" width="66.7" height="5.47" fill="#ffef00"/><rect x="799.8" y="660.48" width="66.7" height="5.47" fill="#ffdf00"/><rect x="799.8" y="655.61" width="66.7" height="5.47" fill="#ffcf00"/><rect x="799.8" y="650.74" width="66.7" height="5.47" fill="#ffbf00"/><rect x="799.8" y="645.87" width="66.7" height="5.47" fill="#ffaf00"/><rect x="799.8" y="640.99" width="66.7" height="5.47" fill="#ff9f00"/><rect x="799.8" y="636.12" width="66.7" height="5.47" fill="#ff8f00"/><rect x="799.8" y="631.25" width="66.7" height="5.47" fill="#ff8000"/><rect x="799.8" y="626.38" width="66.7" height="5.47" fill="#ff7000"/><rect x="799.8" y="621.51" width="66.7" height="5.47" fill="#ff6000"/><rect x="799.8" y="616.63" width="66.7" height="5.47" fill="#ff5000"/><rect x="799.8" y="611.76" width="66.7" height="5.47" fill="#ff4000"/><rect x="799.8" y="606.89" width="66.7" height="5.47" fill="#ff3000"/><rect x="799.8" y="602.02" width="66.7" height="5.47" fill="#ff2000"/><rect x="799.8" y="597.15" width="66.7" height="5.47" fill="#ff1000"/><rect x="799.8" y="592.27" width="66.7" height="5.47" fill="#ff0000"/><rect x="799.8" y="587.40" width="66.7" height="5.47" fill="#ef0000"/><rect x="799.8" y="582.53" width="66.7" height="5.47" fill="#df0000"/><rect x="799.8" y="577.66" width="66.7" height="5.47" fill="#cf0000"/><rect x="799.8" y="572.79" width="66.7" height="5.47" fill="#bf0000"/><rect x="799.8" y="567.92" width="66.7" height="5.47" fill="#af0000"/><rect x="799.8" y="563.04" width="66.7" height="5.47" fill="#9f0000"/><rect x="799.8" y="558.17" width="66.7" height="5.47" fill="#8f0000"/><rect x="799.8" y="553.30" width="66.7" height="5.47" fill="#800000"/></g>
<path d="M799.8,576.6h3.1M866.5,576.6h-3.1M799.8,670.9h3.1M866.5,670.9h-3.1M799.8,765.1h3.1M866.5,765.1h-3.1M799.8,859.3h3.1M866.5,859.3h-3.1" fill="none" stroke="#000" stroke-width="1.3"/>
<rect x="799.8" y="553.3" width="66.7" height="311.8" fill="none" stroke="#000" stroke-width="1.9" stroke-linejoin="round"/>
<text x="876.2" y="588.8">0<tspan dx="1.6">.</tspan><tspan dx="-4.8">2</tspan></text>
<text x="876.2" y="683.1">0<tspan dx="1.6">.</tspan><tspan dx="-4.8">1</tspan></text>
<text x="876.2" y="777.3">0</text>
<text x="875.6" y="871.5"><tspan dy="2.7">−</tspan><tspan dy="-2.7">0.1</tspan></text>
</g>
<g id="panel4">
<clipPath id="clip3"><rect x="1006" y="552.6" width="622.2" height="311"/></clipPath>
<g clip-path="url(#clip3)">
<path fill="#00008f" d="M1011.2,863.6L1623,863.6L1623,811.8L1617.8,806.6L1617.8,791L1612.6,785.9L1612.6,770.3L1607.5,765.1L1607.5,754.8L1602.3,749.6L1602.3,744.4L1597.1,739.2L1597.1,734L1591.9,728.8L1591.9,723.6L1586.7,718.5L1586.7,713.3L1581.5,708.1L1581.5,702.9L1571.2,692.5L1571.2,687.4L1560.8,677L1560.8,671.8L1508.9,620L1503.8,620L1493.4,609.6L1488.2,609.6L1477.8,599.2L1472.7,599.2L1467.5,594.1L1462.3,594.1L1457.1,588.9L1451.9,588.9L1446.7,583.7L1441.5,583.7L1436.4,578.5L1431.2,578.5L1426,573.3L1415.6,573.3L1410.4,568.2L1394.9,568.2L1389.7,563L1374.1,563L1369,557.8L1265.2,557.8L1260.1,563L1244.5,563L1239.3,568.2L1223.8,568.2L1218.6,573.3L1208.2,573.3L1203,578.5L1197.8,578.5L1192.7,583.7L1187.5,583.7L1182.3,588.9L1177.1,588.9L1171.9,594.1L1166.7,594.1L1161.5,599.2L1156.4,599.2L1146,609.6L1140.8,609.6L1130.4,620L1125.3,620L1073.4,671.8L1073.4,677L1063,687.4L1063,692.5L1052.7,702.9L1052.7,708.1L1047.5,713.3L1047.5,718.5L1042.3,723.6L1042.3,728.8L1037.1,734L1037.1,739.2L1031.9,744.4L1031.9,749.6L1026.7,754.8L1026.7,765.1L1021.6,770.3L1021.6,785.9L1016.4,791L1016.4,806.6L1011.2,811.8Z"/>
<path fill="#0000bf" d="M1011.2,863.6L1623,863.6L1623,811.8L1617.8,806.6L1617.8,791L1612.6,785.9L1612.6,770.3L1607.5,765.1L1607.5,754.8L1602.3,749.6L1602.3,744.4L1597.1,739.2L1597.1,734L1591.9,728.8L1591.9,723.6L1586.7,718.5L1586.7,713.3L1581.5,708.1L1581.5,702.9L1571.2,692.5L1571.2,687.4L1560.8,677L1560.8,671.8L1508.9,620L1503.8,620L1493.4,609.6L1488.2,609.6L1477.8,599.2L1472.7,599.2L1467.5,594.1L1462.3,594.1L1457.1,588.9L1451.9,588.9L1446.7,583.7L1441.5,583.7L1436.4,578.5L1431.2,578.5L1426,573.3L1415.6,573.3L1410.4,568.2L1394.9,568.2L1389.7,563L1374.1,563L1369,557.8L1300.2,557.8L1300.2,563L1286,566.6L1280.8,566.8L1270.4,568.1L1265.2,569.6L1254.9,573.3L1234.1,582.6L1218.1,588.9L1210.3,594.1L1195.6,604.4L1182.3,610.5L1174.4,614.8L1151.2,631.2L1145.4,635.5L1139.6,640.7L1128,656.3L1104.5,679L1096.8,687.4L1089,696.5L1073.4,716.4L1068.2,723.8L1061.8,734L1056,744.4L1048.4,759.9L1044.2,770.3L1038.4,785.9L1023.8,811.8L1013,837.7L1011.2,840.1Z"/>
<path fill="#0000ef" d="M1034.7,863.6L1623,863.6L1623,811.8L1617.8,806.6L1617.8,791L1612.6,785.9L1612.6,770.3L1607.5,765.1L1607.5,754.8L1602.3,749.6L1602.3,744.4L1597.1,739.2L1597.1,734L1591.9,728.8L1591.9,723.6L1586.7,718.5L1586.7,713.3L1581.5,708.1L1581.5,702.9L1571.2,692.5L1571.2,687.4L1560.8,677L1560.8,671.8L1508.9,620L1503.8,620L1493.4,609.6L1488.2,609.6L1477.8,599.2L1472.7,599.2L1467.5,594.1L1462.3,594.1L1457.1,588.9L1451.9,588.9L1446.7,583.7L1441.5,583.7L1436.4,578.5L1431.2,578.5L1429.5,576.9L1426,577L1420.8,573.3L1410.4,575.4L1405.2,575.3L1400.1,573L1394.9,571.5L1379.2,573.3L1374.1,575.3L1363.8,577.9L1353.4,583.5L1348.2,585.7L1343,586.9L1337.8,587.5L1322.3,587.6L1317.1,588.4L1311.9,590L1296.4,596.1L1291.2,597.5L1275.6,599.6L1270.4,601.1L1265.2,603.5L1249.7,613.7L1244.5,616.7L1227.9,625.2L1218.4,630.4L1210.8,635.5L1197.8,645.6L1182.3,655.9L1177.1,660.5L1165.6,671.8L1154.4,682.2L1146,689.3L1128.9,702.9L1123.1,708.1L1114.9,717.3L1101.9,734L1083.8,756.1L1077.9,765.1L1057.8,802.8L1053.4,811.8L1043.4,837.7L1036.1,858.4Z"/>
<path fill="#0020ff" d="M1092,863.6L1623,863.6L1623,811.8L1617.8,806.6L1617.8,791L1612.6,785.9L1612.6,770.3L1607.5,765.1L1607.5,754.8L1602.3,749.6L1602.3,744.4L1597.1,739.2L1597.1,734L1591.9,728.8L1591.9,723.6L1586.7,718.5L1586.7,713.3L1581.5,708.1L1581.5,702.9L1571.2,692.5L1571.2,687.4L1560.8,677L1560.8,671.8L1508.9,620L1503.8,620L1493.4,609.6L1488.2,609.6L1477.8,599.2L1472.7,599.2L1467.5,594.1L1462.9,594.1L1462.3,595.5L1400.1,607.1L1374.1,612.8L1363.8,616.1L1348.2,622.5L1343,624.1L1327.5,627.1L1322.3,628.4L1317.1,630.2L1311.9,633L1296.4,643.5L1291.2,646.6L1275.6,654.1L1265.2,660.3L1254.9,665.6L1249.7,669.1L1234.1,682L1229,685.5L1198.4,702.9L1192.7,706.7L1184.9,713.3L1170.3,728.8L1161.5,737.3L1153.2,744.4L1139.9,754.8L1134.2,759.9L1129.6,765.1L1109.7,790L1098.8,806.6L1096,811.8L1094.1,817.2L1093.6,822.1L1093.5,842.9ZM1454.6,588.9L1457.1,592.8L1461.5,593.3L1457.1,588.9ZM1445.3,583.7L1446.7,585.7L1448.8,585.8L1446.7,583.7ZM1435.6,578.5L1436.4,579.5L1437.4,579.5L1436.4,578.5Z"/>
<path fill="#0060ff" d="M1213.3,863.6L1623,863.6L1623,811.8L1617.8,806.6L1617.8,791L1612.6,785.9L1612.6,770.3L1607.5,765.1L1607.5,754.8L1602.3,749.6L1602.3,744.4L1597.1,739.2L1597.1,734L1591.9,728.8L1591.9,723.6L1586.7,718.5L1586.7,713.3L1581.5,708.1L1581.5,702.9L1571.2,692.5L1571.2,687.4L1560.8,677L1560.8,671.8L1510,621L1508.9,622.2L1506,620L1503.8,620L1497.1,613.3L1488.2,616.7L1473.3,620L1462.3,622.8L1426,633.5L1405.2,638.9L1399.4,640.7L1389.7,645L1343,673.4L1327.3,682.2L1319.3,687.4L1313.1,692.5L1296.4,709.1L1271.7,728.8L1260.1,738.8L1248.5,749.6L1243.6,754.8L1239.4,759.9L1235.9,765.1L1225.5,785.9L1215.7,801.4L1212.8,806.6L1210.7,811.8L1209.7,817L1209.5,822.1L1210.2,832.5Z"/>
<path fill="#008fff" d="M1315.9,863.6L1623,863.6L1623,811.8L1617.8,806.6L1617.8,791L1612.6,785.9L1612.6,770.3L1607.5,765.1L1607.5,754.8L1602.3,749.6L1602.3,744.4L1597.1,739.2L1597.1,734L1591.9,728.8L1591.9,723.6L1586.7,718.5L1586.7,713.3L1581.5,708.1L1581.5,702.9L1571.2,692.5L1571.2,687.4L1560.8,677L1560.8,671.8L1511.9,622.9L1509.9,625.2L1511.2,630.4L1493.4,637.4L1470.2,645.9L1458.2,651.1L1438.2,661.5L1420.8,672.2L1410.4,679.4L1400.1,687.2L1381,702.9L1363.6,718.5L1358.5,723.6L1349.3,734L1341.2,744.4L1333.9,754.8L1330.5,759.9L1327.7,765.1L1325.2,770.3L1321.3,780.7L1314.9,801.4L1312.6,811.8L1311.9,817L1310.9,827.3L1310.8,832.5L1311.1,837.7L1311.9,842.9Z"/>
<path fill="#00bfff" d="M1356.5,863.6L1623,863.6L1623,811.8L1617.8,806.6L1617.8,791L1612.6,785.9L1612.6,770.3L1607.5,765.1L1607.5,754.8L1602.3,749.6L1602.3,744.4L1597.1,739.2L1597.1,734L1591.9,728.8L1591.9,723.6L1586.7,718.5L1586.7,713.3L1581.5,708.1L1581.5,702.9L1571.2,692.5L1571.2,687.4L1560.8,677L1560.8,671.8L1533.2,644.2L1516.2,651.1L1505.2,656.3L1487.4,666.6L1479.6,671.8L1467.5,680.6L1445.8,697.7L1421.2,718.5L1410.4,728.5L1405.2,733.8L1400.1,739.5L1391.6,749.6L1383.9,759.9L1380.6,765.1L1374.9,775.5L1370.3,785.9L1364.9,801.4L1360.6,817L1357.2,832.5L1356.2,842.9ZM1518.1,630.4L1519.3,632L1521.1,632.1L1513.8,624.8L1513.4,625.2L1514.1,626Z"/>
<path fill="#00efff" d="M1390.6,863.6L1623,863.6L1623,811.8L1617.8,806.6L1617.8,791L1612.6,785.9L1612.6,770.3L1607.5,765.1L1607.5,754.8L1602.3,749.6L1602.3,744.4L1597.1,739.2L1597.1,734L1591.9,728.8L1591.9,723.6L1586.7,718.5L1586.7,713.3L1581.5,708.1L1581.5,702.9L1571.2,692.5L1571.2,687.4L1560.8,677L1560.8,672.7L1559.5,671.8L1559.1,670.1L1549.7,660.8L1534.9,669.7L1514.1,683.4L1498.6,694.4L1462.3,721L1453.1,728.8L1446.7,734.9L1438,744.4L1429.5,754.8L1421.9,765.1L1418.5,770.3L1412.5,780.7L1407.1,791L1402.2,801.4L1396.2,817L1392.8,827.3L1391.5,832.5L1390.6,837.7L1390.1,848.1Z"/>
<path fill="#20ffdf" d="M1418.5,863.6L1623,863.6L1623,811.8L1617.8,806.6L1617.8,791L1612.6,785.9L1612.6,770.3L1607.5,765.1L1607.5,754.8L1602.3,749.6L1602.3,744.4L1597.1,739.2L1597.1,734L1591.9,728.8L1591.9,723.6L1586.7,718.5L1586.7,713.3L1581.5,708.1L1581.5,702.9L1571.2,692.5L1571.2,687.4L1562.1,678.3L1550.4,688.1L1530.6,702.9L1523,708.1L1498.6,723.2L1483.6,734L1477.3,739.2L1467.5,748.1L1461,754.8L1456.6,759.9L1449.1,770.3L1439.5,785.9L1431.2,801.4L1426.7,811.8L1424.8,817L1421.8,827.3L1419.6,837.7L1418.7,848.1Z"/>
<path fill="#50ffaf" d="M1441.2,863.6L1623,863.6L1623,811.8L1617.8,806.6L1617.8,791L1612.6,785.9L1612.6,770.3L1607.5,765.1L1607.5,754.8L1602.3,749.6L1602.3,744.4L1597.1,739.2L1597.1,734L1591.9,728.8L1591.9,723.6L1586.7,718.5L1586.7,713.3L1581.5,708.1L1581.5,702.9L1574.4,695.8L1565.8,702.9L1558.6,708.1L1550.4,712.4L1534.9,722L1519.3,732.1L1508.9,739.5L1498.6,747.8L1490.9,754.8L1483,762.9L1476.9,770.3L1469.4,780.7L1462.3,791.7L1456.7,801.4L1451.9,811.8L1448.3,822.1L1444.3,837.7L1442.6,848.1Z"/>
<path fill="#8fff70" d="M1460.6,863.6L1623,863.6L1623,811.8L1617.8,806.6L1617.8,791L1612.6,785.9L1612.6,770.3L1607.5,765.1L1607.5,754.8L1602.3,749.6L1602.3,744.4L1597.1,739.2L1597.1,734L1591.9,728.8L1591.9,723.6L1586.7,718.5L1586.7,713.3L1584.8,711.4L1570.6,718.5L1560.8,723.8L1550.4,730.1L1537.1,739.2L1524.5,748.9L1517.5,754.8L1506.8,765.1L1497.8,775.5L1489.5,785.9L1482,796.2L1475.6,806.6L1473.2,811.8L1469.7,822.1L1464.4,842.9L1462.1,853.2Z"/>
<path fill="#bfff40" d="M1479.3,863.6L1623,863.6L1623,811.8L1617.8,806.6L1617.8,791L1612.6,785.9L1612.6,770.3L1607.5,765.1L1607.5,754.8L1602.3,749.6L1602.3,744.4L1597.1,739.2L1597.1,734L1591.9,728.8L1591.9,723.6L1590,721.8L1586.7,724.4L1570.4,734L1560.8,740.1L1550.4,747.4L1541.1,754.8L1534.9,760.3L1524.9,770.3L1502.4,796.2L1498.5,801.4L1495.1,806.6L1492.4,811.8L1490.3,817L1481,853.2Z"/>
<path fill="#efff10" d="M1496.7,863.6L1623,863.6L1623,811.8L1617.8,806.6L1617.8,791L1612.6,785.9L1612.6,770.3L1607.5,765.1L1607.5,754.8L1602.3,749.6L1602.3,744.4L1597.1,739.2L1597.1,734L1594.8,731.8L1586.7,738.3L1563.2,754.8L1556.7,759.9L1550.9,765.1L1545.2,770.8L1524.5,793L1517.1,801.4L1514.1,805.4L1510.2,811.8L1508,817L1506.5,822.1L1502.8,837.7L1498.6,853.2Z"/>
<path fill="#ffdf00" d="M1512.8,863.6L1623,863.6L1623,811.8L1617.8,806.6L1617.8,791L1612.6,785.9L1612.6,770.3L1607.5,765.1L1607.5,754.8L1602.3,749.6L1602.3,744.4L1599.7,741.8L1577,759.9L1565.1,770.3L1539.5,796.2L1534.7,801.4L1530.5,806.6L1527.2,811.8L1524.9,817L1523.2,822.1L1519.4,837.7L1514.9,853.2Z"/>
<path fill="#ffaf00" d="M1527.9,863.6L1623,863.6L1623,811.8L1617.8,806.6L1617.8,791L1612.6,785.9L1612.6,770.3L1607.5,765.1L1607.5,754.8L1604.5,751.8L1594,759.9L1577.2,775.5L1551.7,801.4L1547.1,806.6L1543.4,811.8L1540.8,817L1539,822.1L1534.9,837.7L1530.1,853.2Z"/>
<path fill="#ff8000" d="M1542.2,863.6L1623,863.6L1623,811.8L1617.8,806.6L1617.8,791L1612.6,785.9L1612.6,770.3L1607.5,765.1L1607.5,763.2L1598.9,770.3L1587.9,780.7L1568.1,801.4L1563.5,806.6L1559.6,811.8L1556.6,817L1554.4,822.1L1552.6,827.3L1544.5,853.2Z"/>
<path fill="#ff5000" d="M1556.5,863.6L1623,863.6L1623,811.8L1617.8,806.6L1617.8,791L1612.6,785.9L1612.6,771.7L1602.9,780.7L1597.8,785.9L1579.6,806.6L1575.6,811.8L1572.4,817L1567.7,827.3L1560.8,846.8L1557.4,858.4Z"/>
<path fill="#ff1000" d="M1571.2,863.6L1623,863.6L1623,811.8L1617.8,806.6L1617.8,791L1612.6,785.9L1612.6,784.6L1611.3,785.9L1602.3,798.6L1591.7,811.8L1585.9,822.1L1581.3,832.5L1575.2,848.1L1572.1,858.4Z"/>
<path fill="#df0000" d="M1585.5,863.6L1623,863.6L1623,811.8L1617.8,806.6L1617.8,798L1612.6,805.5L1607.6,811.8L1599.7,827.3L1590.1,848.1L1586.6,858.4Z"/>
<path fill="#af0000" d="M1599,863.6L1623,863.6L1623,814.6L1617.8,822.4L1604.5,848.1L1600.1,858.4Z"/>
<path fill="#800000" d="M1611.4,863.6L1623,863.6L1623,837L1617.8,849.9L1612.8,858.4Z"/>
<path d="M1006,863.6 A311.1,311.1 0 0 1 1628.2,863.6" fill="none" stroke="#000" stroke-width="1.6"/>
<path d="M1368.9,861.9 A51.9,51.9 0 0 0 1364.5,842.5M1353.1,826.3 A51.9,51.9 0 0 0 1336.4,815.5M1316.8,811.8 A51.9,51.9 0 0 0 1297.4,815.7M1280.8,826.6 A51.9,51.9 0 0 0 1269.5,843M1265.3,862.4 A51.9,51.9 0 0 0 1265.2,863.6M1420.8,863.6 A103.7,103.7 0 0 0 1419.9,850M1415.4,830.6 A103.7,103.7 0 0 0 1407.3,812.4M1395.8,796 A103.7,103.7 0 0 0 1381.3,782.2M1364.6,771.4 A103.7,103.7 0 0 0 1346,764M1326.4,760.3 A103.7,103.7 0 0 0 1306.4,760.5M1286.8,764.4 A103.7,103.7 0 0 0 1268.4,772.1M1251.7,783.1 A103.7,103.7 0 0 0 1237.5,797.1M1226.3,813.6 A103.7,103.7 0 0 0 1218.4,831.9M1214.1,851.4 A103.7,103.7 0 0 0 1213.4,863.6M1472.6,863.6 A155.6,155.6 0 0 0 1472.6,858.9M1470.7,839 A155.6,155.6 0 0 0 1466.3,819.5M1459.4,800.7 A155.6,155.6 0 0 0 1450.2,783M1438.7,766.6 A155.6,155.6 0 0 0 1425.3,751.8M1410.1,738.9 A155.6,155.6 0 0 0 1393.3,728M1375.3,719.3 A155.6,155.6 0 0 0 1356.3,713.1M1336.7,709.3 A155.6,155.6 0 0 0 1316.7,708.1M1296.8,709.4 A155.6,155.6 0 0 0 1277.2,713.3M1258.2,719.6 A155.6,155.6 0 0 0 1240.3,728.4M1223.6,739.3 A155.6,155.6 0 0 0 1208.4,752.3M1195,767.2 A155.6,155.6 0 0 0 1183.7,783.6M1174.5,801.4 A155.6,155.6 0 0 0 1167.7,820.2M1163.4,839.7 A155.6,155.6 0 0 0 1161.6,859.6M1523.9,848.1 A207.4,207.4 0 0 0 1521.5,828.3M1517.1,808.8 A207.4,207.4 0 0 0 1510.9,789.8M1502.9,771.4 A207.4,207.4 0 0 0 1493.2,754M1481.8,737.5 A207.4,207.4 0 0 0 1468.9,722.3M1454.6,708.3 A207.4,207.4 0 0 0 1439,695.8M1422.3,684.8 A207.4,207.4 0 0 0 1404.6,675.5M1386,668 A207.4,207.4 0 0 0 1366.9,662.3M1347.3,658.4 A207.4,207.4 0 0 0 1327.4,656.5M1307.4,656.4 A207.4,207.4 0 0 0 1287.5,658.3M1267.9,662.1 A207.4,207.4 0 0 0 1248.7,667.8M1230.2,675.3 A207.4,207.4 0 0 0 1212.4,684.6M1195.7,695.5 A207.4,207.4 0 0 0 1180.1,707.9M1165.7,721.9 A207.4,207.4 0 0 0 1152.8,737.1M1141.3,753.5 A207.4,207.4 0 0 0 1131.6,770.9M1123.5,789.2 A207.4,207.4 0 0 0 1117.2,808.2M1112.8,827.7 A207.4,207.4 0 0 0 1110.3,847.5M1576.3,857 A259.2,259.2 0 0 0 1575,837M1572.2,817.3 A259.2,259.2 0 0 0 1567.8,797.7M1562,778.6 A259.2,259.2 0 0 0 1554.7,760M1546,742 A259.2,259.2 0 0 0 1536,724.7M1524.6,708.2 A259.2,259.2 0 0 0 1512,692.7M1498.3,678.2 A259.2,259.2 0 0 0 1483.5,664.8M1467.6,652.5 A259.2,259.2 0 0 0 1450.9,641.6M1433.4,631.9 A259.2,259.2 0 0 0 1415.2,623.6M1396.4,616.8 A259.2,259.2 0 0 0 1377.2,611.4M1357.6,607.5 A259.2,259.2 0 0 0 1337.7,605.2M1317.7,604.4 A259.2,259.2 0 0 0 1297.7,605.1M1277.9,607.3 A259.2,259.2 0 0 0 1258.2,611.1M1239,616.4 A259.2,259.2 0 0 0 1220.1,623.2M1201.9,631.3 A259.2,259.2 0 0 0 1184.3,640.9M1167.6,651.8 A259.2,259.2 0 0 0 1151.7,664M1136.8,677.3 A259.2,259.2 0 0 0 1123,691.8M1110.3,707.2 A259.2,259.2 0 0 0 1098.9,723.6M1088.7,740.9 A259.2,259.2 0 0 0 1080,758.8M1072.6,777.4 A259.2,259.2 0 0 0 1066.7,796.5M1062.3,816 A259.2,259.2 0 0 0 1059.3,835.8M1058,855.7 A259.2,259.2 0 0 0 1057.8,863.6M1317.1,863.6L1335.5,858.7M1354.8,853.5L1374.1,848.3M1393.4,843.2L1412.7,838M1432,832.8L1451.4,827.6M1470.7,822.4L1490,817.3M1509.3,812.1L1528.6,806.9M1548,801.7L1567.3,796.6M1586.6,791.4L1605.9,786.2M1625.2,781L1628.2,780.2M1317.1,863.6L1333.6,854.1M1350.9,844.1L1368.2,834.1M1385.5,824.1L1402.8,814.1M1420.2,804.1L1437.5,794.1M1454.8,784.1L1472.1,774.1M1489.4,764.1L1506.8,754.1M1524.1,744.1L1541.4,734.1M1558.7,724.1L1576,714.1M1593.4,704.1L1610.7,694.1M1628,684.1L1628.2,684M1317.1,863.6L1330.5,850.2M1344.7,836L1358.8,821.9M1373,807.7L1387.1,793.6M1401.2,779.5L1415.4,765.3M1429.5,751.2L1443.7,737M1457.8,722.9L1472,708.7M1486.1,694.6L1500.2,680.5M1514.4,666.3L1528.5,652.2M1542.7,638L1556.8,623.9M1571,609.7L1585.1,595.6M1599.2,581.5L1613.4,567.3M1627.5,553.2L1628.1,552.6M1317.1,863.6L1326.6,847.1M1336.6,829.8L1346.6,812.5M1356.6,795.2L1366.6,777.9M1376.6,760.5L1386.6,743.2M1396.6,725.9L1406.6,708.6M1416.6,691.3L1426.6,673.9M1436.6,656.6L1446.6,639.3M1456.6,622L1466.6,604.7M1476.6,587.3L1486.6,570M1496.6,552.7L1496.7,552.6M1317.1,863.6L1322,845.2M1327.2,825.9L1332.4,806.6M1337.5,787.3L1342.7,768M1347.9,748.7L1353.1,729.3M1358.3,710L1363.4,690.7M1368.6,671.4L1373.8,652.1M1379,632.7L1384.1,613.4M1389.3,594.1L1394.5,574.8M1399.7,555.5L1400.4,552.6M1317.1,552.6L1317.1,572.6M1317.1,592.6L1317.1,612.6M1317.1,632.6L1317.1,652.6M1317.1,672.6L1317.1,692.6M1317.1,712.6L1317.1,732.6M1317.1,752.6L1317.1,772.6M1317.1,792.6L1317.1,812.6M1317.1,832.6L1317.1,852.6M1233.8,552.6L1238.9,571.9M1244.1,591.2L1249.3,610.6M1254.5,629.9L1259.6,649.2M1264.8,668.5L1270,687.8M1275.2,707.1L1280.4,726.5M1285.5,745.8L1290.7,765.1M1295.9,784.4L1301.1,803.7M1306.2,823.1L1311.4,842.4M1316.6,861.7L1317.1,863.6M1137.5,552.6L1147.5,569.9M1157.5,587.2L1167.5,604.6M1177.5,621.9L1187.5,639.2M1197.5,656.5L1207.5,673.8M1217.5,691.2L1227.5,708.5M1237.5,725.8L1247.5,743.1M1257.5,760.4L1267.5,777.8M1277.5,795.1L1287.5,812.4M1297.5,829.7L1307.5,847M1006.1,552.6L1020.2,566.7M1034.4,580.9L1048.5,595M1062.7,609.2L1076.8,623.3M1091,637.5L1105.1,651.6M1119.2,665.7L1133.4,679.9M1147.5,694L1161.7,708.2M1175.8,722.3L1189.9,736.4M1204.1,750.6L1218.2,764.7M1232.4,778.9L1246.5,793M1260.7,807.2L1274.8,821.3M1288.9,835.4L1303.1,849.6M1006,684L1023.3,694M1040.6,704L1058,714M1075.3,724L1092.6,734M1109.9,744L1127.2,754M1144.6,764L1161.9,774M1179.2,784L1196.5,794M1213.8,804L1231.2,814M1248.5,824L1265.8,834M1283.1,844L1300.4,854M1006,780.2L1025.3,785.4M1044.6,790.6L1064,795.8M1083.3,800.9L1102.6,806.1M1121.9,811.3L1141.2,816.5M1160.5,821.7L1179.9,826.8M1199.2,832L1218.5,837.2M1237.8,842.4L1257.1,847.5M1276.5,852.7L1295.8,857.9M1315.1,863.1L1317.1,863.6" fill="none" stroke="#000" stroke-width="1.5"/>
</g>
<path d="M1109.7,863.6v-6M1109.7,552.6v6M1213.4,863.6v-6M1213.4,552.6v6M1317.1,863.6v-6M1317.1,552.6v6M1420.8,863.6v-6M1420.8,552.6v6M1524.5,863.6v-6M1524.5,552.6v6M1006,759.9h6M1628.2,759.9h-6M1006,656.3h6M1628.2,656.3h-6" fill="none" stroke="#000" stroke-width="1.6"/>
<rect x="1006" y="552.6" width="622.2" height="311" fill="none" stroke="#000" stroke-width="1.9"/>
<text x="967.6" y="903.8"><tspan dy="2.7">−</tspan><tspan dy="-2.7" dx="0.6">60</tspan></text>
<text x="1071.3" y="903.8"><tspan dy="2.7">−</tspan><tspan dy="-2.7" dx="0.6">40</tspan></text>
<text x="1175" y="903.8"><tspan dy="2.7">−</tspan><tspan dy="-2.7" dx="0.6">20</tspan></text>
<text x="1317.1" y="903.8" text-anchor="middle">0</text>
<text x="1420.8" y="903.8" text-anchor="middle">20</text>
<text x="1524.5" y="903.8" text-anchor="middle">40</text>
<text x="1628.2" y="903.8" text-anchor="middle">60</text>
<text x="995.8" y="875.9" text-anchor="end">0</text>
<text x="995.8" y="772.2" text-anchor="end">15</text>
<text x="995.8" y="668.6" text-anchor="end">30</text>
<text x="995.8" y="564.9" text-anchor="end">45</text>
<text x="1317.1" y="525" text-anchor="middle">Opal glass</text>
<text class="sy" x="1285.6" y="955.6">θ</text><text class="ss" x="1301.9" y="968.9">r</text><text x="1317.8" y="955.6">/</text><text class="ss" x="1334.4" y="938.8">o</text>
<g shape-rendering="crispEdges"><rect x="1678.3" y="858.74" width="66.7" height="5.46" fill="#00008f"/><rect x="1678.3" y="853.88" width="66.7" height="5.46" fill="#00009f"/><rect x="1678.3" y="849.02" width="66.7" height="5.46" fill="#0000af"/><rect x="1678.3" y="844.16" width="66.7" height="5.46" fill="#0000bf"/><rect x="1678.3" y="839.30" width="66.7" height="5.46" fill="#0000cf"/><rect x="1678.3" y="834.44" width="66.7" height="5.46" fill="#0000df"/><rect x="1678.3" y="829.58" width="66.7" height="5.46" fill="#0000ef"/><rect x="1678.3" y="824.73" width="66.7" height="5.46" fill="#0000ff"/><rect x="1678.3" y="819.87" width="66.7" height="5.46" fill="#0010ff"/><rect x="1678.3" y="815.01" width="66.7" height="5.46" fill="#0020ff"/><rect x="1678.3" y="810.15" width="66.7" height="5.46" fill="#0030ff"/><rect x="1678.3" y="805.29" width="66.7" height="5.46" fill="#0040ff"/><rect x="1678.3" y="800.43" width="66.7" height="5.46" fill="#0050ff"/><rect x="1678.3" y="795.57" width="66.7" height="5.46" fill="#0060ff"/><rect x="1678.3" y="790.71" width="66.7" height="5.46" fill="#0070ff"/><rect x="1678.3" y="785.85" width="66.7" height="5.46" fill="#0080ff"/><rect x="1678.3" y="780.99" width="66.7" height="5.46" fill="#008fff"/><rect x="1678.3" y="776.13" width="66.7" height="5.46" fill="#009fff"/><rect x="1678.3" y="771.27" width="66.7" height="5.46" fill="#00afff"/><rect x="1678.3" y="766.41" width="66.7" height="5.46" fill="#00bfff"/><rect x="1678.3" y="761.55" width="66.7" height="5.46" fill="#00cfff"/><rect x="1678.3" y="756.69" width="66.7" height="5.46" fill="#00dfff"/><rect x="1678.3" y="751.83" width="66.7" height="5.46" fill="#00efff"/><rect x="1678.3" y="746.98" width="66.7" height="5.46" fill="#00ffff"/><rect x="1678.3" y="742.12" width="66.7" height="5.46" fill="#10ffef"/><rect x="1678.3" y="737.26" width="66.7" height="5.46" fill="#20ffdf"/><rect x="1678.3" y="732.40" width="66.7" height="5.46" fill="#30ffcf"/><rect x="1678.3" y="727.54" width="66.7" height="5.46" fill="#40ffbf"/><rect x="1678.3" y="722.68" width="66.7" height="5.46" fill="#50ffaf"/><rect x="1678.3" y="717.82" width="66.7" height="5.46" fill="#60ff9f"/><rect x="1678.3" y="712.96" width="66.7" height="5.46" fill="#70ff8f"/><rect x="1678.3" y="708.10" width="66.7" height="5.46" fill="#80ff80"/><rect x="1678.3" y="703.24" width="66.7" height="5.46" fill="#8fff70"/><rect x="1678.3" y="698.38" width="66.7" height="5.46" fill="#9fff60"/><rect x="1678.3" y="693.52" width="66.7" height="5.46" fill="#afff50"/><rect x="1678.3" y="688.66" width="66.7" height="5.46" fill="#bfff40"/><rect x="1678.3" y="683.80" width="66.7" height="5.46" fill="#cfff30"/><rect x="1678.3" y="678.94" width="66.7" height="5.46" fill="#dfff20"/><rect x="1678.3" y="674.08" width="66.7" height="5.46" fill="#efff10"/><rect x="1678.3" y="669.23" width="66.7" height="5.46" fill="#ffff00"/><rect x="1678.3" y="664.37" width="66.7" height="5.46" fill="#ffef00"/><rect x="1678.3" y="659.51" width="66.7" height="5.46" fill="#ffdf00"/><rect x="1678.3" y="654.65" width="66.7" height="5.46" fill="#ffcf00"/><rect x="1678.3" y="649.79" width="66.7" height="5.46" fill="#ffbf00"/><rect x="1678.3" y="644.93" width="66.7" height="5.46" fill="#ffaf00"/><rect x="1678.3" y="640.07" width="66.7" height="5.46" fill="#ff9f00"/><rect x="1678.3" y="635.21" width="66.7" height="5.46" fill="#ff8f00"/><rect x="1678.3" y="630.35" width="66.7" height="5.46" fill="#ff8000"/><rect x="1678.3" y="625.49" width="66.7" height="5.46" fill="#ff7000"/><rect x="1678.3" y="620.63" width="66.7" height="5.46" fill="#ff6000"/><rect x="1678.3" y="615.77" width="66.7" height="5.46" fill="#ff5000"/><rect x="1678.3" y="610.91" width="66.7" height="5.46" fill="#ff4000"/><rect x="1678.3" y="606.05" width="66.7" height="5.46" fill="#ff3000"/><rect x="1678.3" y="601.19" width="66.7" height="5.46" fill="#ff2000"/><rect x="1678.3" y="596.33" width="66.7" height="5.46" fill="#ff1000"/><rect x="1678.3" y="591.48" width="66.7" height="5.46" fill="#ff0000"/><rect x="1678.3" y="586.62" width="66.7" height="5.46" fill="#ef0000"/><rect x="1678.3" y="581.76" width="66.7" height="5.46" fill="#df0000"/><rect x="1678.3" y="576.90" width="66.7" height="5.46" fill="#cf0000"/><rect x="1678.3" y="572.04" width="66.7" height="5.46" fill="#bf0000"/><rect x="1678.3" y="567.18" width="66.7" height="5.46" fill="#af0000"/><rect x="1678.3" y="562.32" width="66.7" height="5.46" fill="#9f0000"/><rect x="1678.3" y="557.46" width="66.7" height="5.46" fill="#8f0000"/><rect x="1678.3" y="552.60" width="66.7" height="5.46" fill="#800000"/></g>
<path d="M1678.3,575.6h3.1M1745,575.6h-3.1M1678.3,646.5h3.1M1745,646.5h-3.1M1678.3,717.1h3.1M1745,717.1h-3.1M1678.3,787.7h3.1M1745,787.7h-3.1M1678.3,858.3h3.1M1745,858.3h-3.1" fill="none" stroke="#000" stroke-width="1.3"/>
<rect x="1678.3" y="552.6" width="66.7" height="311" fill="none" stroke="#000" stroke-width="1.9" stroke-linejoin="round"/>
<text x="1753.4" y="587.8">0.15</text>
<text x="1753.4" y="658.7">0<tspan dx="1.6">.</tspan><tspan dx="-4.8">1</tspan></text>
<text x="1753.4" y="729.3">0.05</text>
<text x="1753.4" y="799.9">0</text>
<text x="1754.1" y="870.5"><tspan dy="2.7">−</tspan><tspan dy="-2.7">0.05</tspan></text>
</g>
</svg>
</body></html>
